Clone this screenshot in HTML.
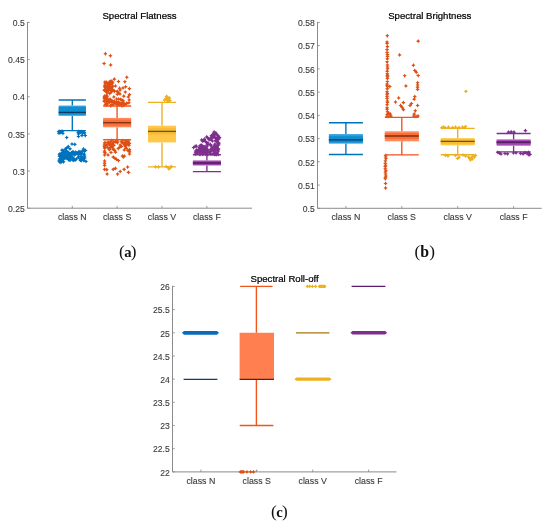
<!DOCTYPE html>
<html><head><meta charset="utf-8"><title>Spectral features box plots</title>
<style>
html,body{margin:0;padding:0;background:#fff}
svg{display:block}
.tk{font-family:"Liberation Sans",Arial,sans-serif;font-size:8.6px;fill:#383838;stroke:#383838;stroke-width:.1px}
.tx{font-family:"Liberation Sans",Arial,sans-serif;font-size:8.8px;fill:#383838;stroke:#383838;stroke-width:.1px}
.tt{font-family:"Liberation Sans",Arial,sans-serif;font-size:9.6px;fill:#000;stroke:#000;stroke-width:.22px}
.cp{font-family:"Liberation Serif","Times New Roman",serif;font-size:15px;fill:#111}
.cp .b{font-weight:bold;font-size:14.6px}
.cp .p{font-size:17.2px}
</style></head><body>
<svg width="550" height="528" viewBox="0 0 550 528">
<rect width="550" height="528" fill="#fff"/>
<g id="plot-a">
<path d="M27.5 21.9V208.2H252" fill="none" stroke="#858585" stroke-width="0.95"/>
<path d="M27.5 22.44999999999999h2.3M27.5 59.599999999999994h2.3M27.5 96.74999999999997h2.3M27.5 133.9h2.3M27.5 171.05h2.3M27.5 208.2h2.3M72.3 208.2v-2.3M117.1 208.2v-2.3M162.0 208.2v-2.3M206.9 208.2v-2.3" fill="none" stroke="#858585" stroke-width="0.8"/>
<text x="24.8" y="26.1" text-anchor="end" class="tk">0.5</text>
<text x="24.8" y="63.3" text-anchor="end" class="tk">0.45</text>
<text x="24.8" y="100.4" text-anchor="end" class="tk">0.4</text>
<text x="24.8" y="137.6" text-anchor="end" class="tk">0.35</text>
<text x="24.8" y="174.8" text-anchor="end" class="tk">0.3</text>
<text x="24.8" y="211.9" text-anchor="end" class="tk">0.25</text>
<text x="72.3" y="220.0" text-anchor="middle" class="tx">class N</text>
<text x="117.1" y="220.0" text-anchor="middle" class="tx">class S</text>
<text x="162.0" y="220.0" text-anchor="middle" class="tx">class V</text>
<text x="206.9" y="220.0" text-anchor="middle" class="tx">class F</text>
<text x="139.5" y="18.5" text-anchor="middle" class="tt">Spectral Flatness</text>
<path d="M60.8 130.4l0.78 1.37 1.37 0.78 -1.37 0.78 -0.78 1.37 -0.78 -1.37 -1.37 -0.78 1.37 -0.78zM59.0 131.0l0.78 1.37 1.37 0.78 -1.37 0.78 -0.78 1.37 -0.78 -1.37 -1.37 -0.78 1.37 -0.78zM62.3 129.3l0.78 1.37 1.37 0.78 -1.37 0.78 -0.78 1.37 -0.78 -1.37 -1.37 -0.78 1.37 -0.78zM62.1 129.3l0.78 1.37 1.37 0.78 -1.37 0.78 -0.78 1.37 -0.78 -1.37 -1.37 -0.78 1.37 -0.78zM58.8 129.5l0.78 1.37 1.37 0.78 -1.37 0.78 -0.78 1.37 -0.78 -1.37 -1.37 -0.78 1.37 -0.78zM59.1 129.1l0.78 1.37 1.37 0.78 -1.37 0.78 -0.78 1.37 -0.78 -1.37 -1.37 -0.78 1.37 -0.78zM61.5 129.3l0.78 1.37 1.37 0.78 -1.37 0.78 -0.78 1.37 -0.78 -1.37 -1.37 -0.78 1.37 -0.78zM60.1 129.7l0.78 1.37 1.37 0.78 -1.37 0.78 -0.78 1.37 -0.78 -1.37 -1.37 -0.78 1.37 -0.78zM62.9 131.1l0.78 1.37 1.37 0.78 -1.37 0.78 -0.78 1.37 -0.78 -1.37 -1.37 -0.78 1.37 -0.78zM80.4 129.9l0.78 1.37 1.37 0.78 -1.37 0.78 -0.78 1.37 -0.78 -1.37 -1.37 -0.78 1.37 -0.78zM85.3 133.4l0.78 1.37 1.37 0.78 -1.37 0.78 -0.78 1.37 -0.78 -1.37 -1.37 -0.78 1.37 -0.78zM79.5 130.2l0.78 1.37 1.37 0.78 -1.37 0.78 -0.78 1.37 -0.78 -1.37 -1.37 -0.78 1.37 -0.78zM78.2 130.4l0.78 1.37 1.37 0.78 -1.37 0.78 -0.78 1.37 -0.78 -1.37 -1.37 -0.78 1.37 -0.78zM83.9 130.2l0.78 1.37 1.37 0.78 -1.37 0.78 -0.78 1.37 -0.78 -1.37 -1.37 -0.78 1.37 -0.78zM78.5 131.8l0.78 1.37 1.37 0.78 -1.37 0.78 -0.78 1.37 -0.78 -1.37 -1.37 -0.78 1.37 -0.78zM80.2 130.5l0.78 1.37 1.37 0.78 -1.37 0.78 -0.78 1.37 -0.78 -1.37 -1.37 -0.78 1.37 -0.78zM81.7 129.6l0.78 1.37 1.37 0.78 -1.37 0.78 -0.78 1.37 -0.78 -1.37 -1.37 -0.78 1.37 -0.78zM78.8 129.2l0.78 1.37 1.37 0.78 -1.37 0.78 -0.78 1.37 -0.78 -1.37 -1.37 -0.78 1.37 -0.78zM82.8 130.7l0.78 1.37 1.37 0.78 -1.37 0.78 -0.78 1.37 -0.78 -1.37 -1.37 -0.78 1.37 -0.78zM82.0 129.8l0.78 1.37 1.37 0.78 -1.37 0.78 -0.78 1.37 -0.78 -1.37 -1.37 -0.78 1.37 -0.78zM66.7 135.4l0.78 1.37 1.37 0.78 -1.37 0.78 -0.78 1.37 -0.78 -1.37 -1.37 -0.78 1.37 -0.78zM78.5 134.3l0.78 1.37 1.37 0.78 -1.37 0.78 -0.78 1.37 -0.78 -1.37 -1.37 -0.78 1.37 -0.78zM82.0 133.3l0.78 1.37 1.37 0.78 -1.37 0.78 -0.78 1.37 -0.78 -1.37 -1.37 -0.78 1.37 -0.78zM84.5 130.8l0.78 1.37 1.37 0.78 -1.37 0.78 -0.78 1.37 -0.78 -1.37 -1.37 -0.78 1.37 -0.78zM72.0 141.9l0.78 1.37 1.37 0.78 -1.37 0.78 -0.78 1.37 -0.78 -1.37 -1.37 -0.78 1.37 -0.78zM74.8 142.2l0.78 1.37 1.37 0.78 -1.37 0.78 -0.78 1.37 -0.78 -1.37 -1.37 -0.78 1.37 -0.78zM68.3 144.4l0.78 1.37 1.37 0.78 -1.37 0.78 -0.78 1.37 -0.78 -1.37 -1.37 -0.78 1.37 -0.78zM65.0 147.2l0.78 1.37 1.37 0.78 -1.37 0.78 -0.78 1.37 -0.78 -1.37 -1.37 -0.78 1.37 -0.78zM83.4 146.8l0.78 1.37 1.37 0.78 -1.37 0.78 -0.78 1.37 -0.78 -1.37 -1.37 -0.78 1.37 -0.78zM66.5 146.0l0.78 1.37 1.37 0.78 -1.37 0.78 -0.78 1.37 -0.78 -1.37 -1.37 -0.78 1.37 -0.78zM70.0 146.7l0.78 1.37 1.37 0.78 -1.37 0.78 -0.78 1.37 -0.78 -1.37 -1.37 -0.78 1.37 -0.78zM62.0 148.0l0.78 1.37 1.37 0.78 -1.37 0.78 -0.78 1.37 -0.78 -1.37 -1.37 -0.78 1.37 -0.78zM85.5 148.3l0.78 1.37 1.37 0.78 -1.37 0.78 -0.78 1.37 -0.78 -1.37 -1.37 -0.78 1.37 -0.78zM73.0 149.5l0.78 1.37 1.37 0.78 -1.37 0.78 -0.78 1.37 -0.78 -1.37 -1.37 -0.78 1.37 -0.78zM80.5 150.5l0.78 1.37 1.37 0.78 -1.37 0.78 -0.78 1.37 -0.78 -1.37 -1.37 -0.78 1.37 -0.78zM68.4 150.2l0.78 1.37 1.37 0.78 -1.37 0.78 -0.78 1.37 -0.78 -1.37 -1.37 -0.78 1.37 -0.78zM74.6 151.0l0.78 1.37 1.37 0.78 -1.37 0.78 -0.78 1.37 -0.78 -1.37 -1.37 -0.78 1.37 -0.78zM79.0 149.4l0.78 1.37 1.37 0.78 -1.37 0.78 -0.78 1.37 -0.78 -1.37 -1.37 -0.78 1.37 -0.78zM84.6 149.0l0.78 1.37 1.37 0.78 -1.37 0.78 -0.78 1.37 -0.78 -1.37 -1.37 -0.78 1.37 -0.78zM72.2 150.7l0.78 1.37 1.37 0.78 -1.37 0.78 -0.78 1.37 -0.78 -1.37 -1.37 -0.78 1.37 -0.78zM66.3 150.0l0.78 1.37 1.37 0.78 -1.37 0.78 -0.78 1.37 -0.78 -1.37 -1.37 -0.78 1.37 -0.78zM63.9 150.5l0.78 1.37 1.37 0.78 -1.37 0.78 -0.78 1.37 -0.78 -1.37 -1.37 -0.78 1.37 -0.78zM79.8 150.2l0.78 1.37 1.37 0.78 -1.37 0.78 -0.78 1.37 -0.78 -1.37 -1.37 -0.78 1.37 -0.78zM82.3 149.5l0.78 1.37 1.37 0.78 -1.37 0.78 -0.78 1.37 -0.78 -1.37 -1.37 -0.78 1.37 -0.78zM78.3 150.3l0.78 1.37 1.37 0.78 -1.37 0.78 -0.78 1.37 -0.78 -1.37 -1.37 -0.78 1.37 -0.78zM75.8 149.9l0.78 1.37 1.37 0.78 -1.37 0.78 -0.78 1.37 -0.78 -1.37 -1.37 -0.78 1.37 -0.78zM81.5 151.2l0.78 1.37 1.37 0.78 -1.37 0.78 -0.78 1.37 -0.78 -1.37 -1.37 -0.78 1.37 -0.78zM73.4 150.4l0.78 1.37 1.37 0.78 -1.37 0.78 -0.78 1.37 -0.78 -1.37 -1.37 -0.78 1.37 -0.78zM64.3 150.5l0.78 1.37 1.37 0.78 -1.37 0.78 -0.78 1.37 -0.78 -1.37 -1.37 -0.78 1.37 -0.78zM77.2 151.3l0.78 1.37 1.37 0.78 -1.37 0.78 -0.78 1.37 -0.78 -1.37 -1.37 -0.78 1.37 -0.78zM81.1 149.4l0.78 1.37 1.37 0.78 -1.37 0.78 -0.78 1.37 -0.78 -1.37 -1.37 -0.78 1.37 -0.78zM71.5 150.5l0.78 1.37 1.37 0.78 -1.37 0.78 -0.78 1.37 -0.78 -1.37 -1.37 -0.78 1.37 -0.78zM63.5 149.9l0.78 1.37 1.37 0.78 -1.37 0.78 -0.78 1.37 -0.78 -1.37 -1.37 -0.78 1.37 -0.78zM66.7 149.0l0.78 1.37 1.37 0.78 -1.37 0.78 -0.78 1.37 -0.78 -1.37 -1.37 -0.78 1.37 -0.78zM64.3 150.7l0.78 1.37 1.37 0.78 -1.37 0.78 -0.78 1.37 -0.78 -1.37 -1.37 -0.78 1.37 -0.78zM65.8 149.3l0.78 1.37 1.37 0.78 -1.37 0.78 -0.78 1.37 -0.78 -1.37 -1.37 -0.78 1.37 -0.78zM71.6 151.0l0.78 1.37 1.37 0.78 -1.37 0.78 -0.78 1.37 -0.78 -1.37 -1.37 -0.78 1.37 -0.78zM61.5 154.3l0.78 1.37 1.37 0.78 -1.37 0.78 -0.78 1.37 -0.78 -1.37 -1.37 -0.78 1.37 -0.78zM73.6 157.6l0.78 1.37 1.37 0.78 -1.37 0.78 -0.78 1.37 -0.78 -1.37 -1.37 -0.78 1.37 -0.78zM80.6 157.4l0.78 1.37 1.37 0.78 -1.37 0.78 -0.78 1.37 -0.78 -1.37 -1.37 -0.78 1.37 -0.78zM66.6 154.0l0.78 1.37 1.37 0.78 -1.37 0.78 -0.78 1.37 -0.78 -1.37 -1.37 -0.78 1.37 -0.78zM68.7 157.6l0.78 1.37 1.37 0.78 -1.37 0.78 -0.78 1.37 -0.78 -1.37 -1.37 -0.78 1.37 -0.78zM84.2 152.0l0.78 1.37 1.37 0.78 -1.37 0.78 -0.78 1.37 -0.78 -1.37 -1.37 -0.78 1.37 -0.78zM64.0 152.6l0.78 1.37 1.37 0.78 -1.37 0.78 -0.78 1.37 -0.78 -1.37 -1.37 -0.78 1.37 -0.78zM65.4 154.5l0.78 1.37 1.37 0.78 -1.37 0.78 -0.78 1.37 -0.78 -1.37 -1.37 -0.78 1.37 -0.78zM74.7 152.8l0.78 1.37 1.37 0.78 -1.37 0.78 -0.78 1.37 -0.78 -1.37 -1.37 -0.78 1.37 -0.78zM59.5 154.0l0.78 1.37 1.37 0.78 -1.37 0.78 -0.78 1.37 -0.78 -1.37 -1.37 -0.78 1.37 -0.78zM69.0 155.2l0.78 1.37 1.37 0.78 -1.37 0.78 -0.78 1.37 -0.78 -1.37 -1.37 -0.78 1.37 -0.78zM84.1 156.1l0.78 1.37 1.37 0.78 -1.37 0.78 -0.78 1.37 -0.78 -1.37 -1.37 -0.78 1.37 -0.78zM72.8 155.5l0.78 1.37 1.37 0.78 -1.37 0.78 -0.78 1.37 -0.78 -1.37 -1.37 -0.78 1.37 -0.78zM76.9 151.3l0.78 1.37 1.37 0.78 -1.37 0.78 -0.78 1.37 -0.78 -1.37 -1.37 -0.78 1.37 -0.78zM82.7 156.8l0.78 1.37 1.37 0.78 -1.37 0.78 -0.78 1.37 -0.78 -1.37 -1.37 -0.78 1.37 -0.78zM82.0 156.9l0.78 1.37 1.37 0.78 -1.37 0.78 -0.78 1.37 -0.78 -1.37 -1.37 -0.78 1.37 -0.78zM69.6 153.9l0.78 1.37 1.37 0.78 -1.37 0.78 -0.78 1.37 -0.78 -1.37 -1.37 -0.78 1.37 -0.78zM62.1 155.7l0.78 1.37 1.37 0.78 -1.37 0.78 -0.78 1.37 -0.78 -1.37 -1.37 -0.78 1.37 -0.78zM61.0 151.4l0.78 1.37 1.37 0.78 -1.37 0.78 -0.78 1.37 -0.78 -1.37 -1.37 -0.78 1.37 -0.78zM64.8 152.1l0.78 1.37 1.37 0.78 -1.37 0.78 -0.78 1.37 -0.78 -1.37 -1.37 -0.78 1.37 -0.78zM68.2 151.2l0.78 1.37 1.37 0.78 -1.37 0.78 -0.78 1.37 -0.78 -1.37 -1.37 -0.78 1.37 -0.78zM59.4 152.0l0.78 1.37 1.37 0.78 -1.37 0.78 -0.78 1.37 -0.78 -1.37 -1.37 -0.78 1.37 -0.78zM62.0 153.6l0.78 1.37 1.37 0.78 -1.37 0.78 -0.78 1.37 -0.78 -1.37 -1.37 -0.78 1.37 -0.78zM60.1 157.5l0.78 1.37 1.37 0.78 -1.37 0.78 -0.78 1.37 -0.78 -1.37 -1.37 -0.78 1.37 -0.78zM75.3 152.0l0.78 1.37 1.37 0.78 -1.37 0.78 -0.78 1.37 -0.78 -1.37 -1.37 -0.78 1.37 -0.78zM65.9 153.5l0.78 1.37 1.37 0.78 -1.37 0.78 -0.78 1.37 -0.78 -1.37 -1.37 -0.78 1.37 -0.78zM68.8 151.8l0.78 1.37 1.37 0.78 -1.37 0.78 -0.78 1.37 -0.78 -1.37 -1.37 -0.78 1.37 -0.78zM81.4 158.4l0.78 1.37 1.37 0.78 -1.37 0.78 -0.78 1.37 -0.78 -1.37 -1.37 -0.78 1.37 -0.78zM71.5 154.5l0.78 1.37 1.37 0.78 -1.37 0.78 -0.78 1.37 -0.78 -1.37 -1.37 -0.78 1.37 -0.78zM61.6 151.6l0.78 1.37 1.37 0.78 -1.37 0.78 -0.78 1.37 -0.78 -1.37 -1.37 -0.78 1.37 -0.78zM68.3 152.9l0.78 1.37 1.37 0.78 -1.37 0.78 -0.78 1.37 -0.78 -1.37 -1.37 -0.78 1.37 -0.78zM80.9 152.1l0.78 1.37 1.37 0.78 -1.37 0.78 -0.78 1.37 -0.78 -1.37 -1.37 -0.78 1.37 -0.78zM60.0 158.1l0.78 1.37 1.37 0.78 -1.37 0.78 -0.78 1.37 -0.78 -1.37 -1.37 -0.78 1.37 -0.78zM73.1 152.0l0.78 1.37 1.37 0.78 -1.37 0.78 -0.78 1.37 -0.78 -1.37 -1.37 -0.78 1.37 -0.78zM73.5 151.1l0.78 1.37 1.37 0.78 -1.37 0.78 -0.78 1.37 -0.78 -1.37 -1.37 -0.78 1.37 -0.78zM73.1 158.3l0.78 1.37 1.37 0.78 -1.37 0.78 -0.78 1.37 -0.78 -1.37 -1.37 -0.78 1.37 -0.78zM81.8 156.1l0.78 1.37 1.37 0.78 -1.37 0.78 -0.78 1.37 -0.78 -1.37 -1.37 -0.78 1.37 -0.78zM66.2 153.6l0.78 1.37 1.37 0.78 -1.37 0.78 -0.78 1.37 -0.78 -1.37 -1.37 -0.78 1.37 -0.78zM63.7 156.7l0.78 1.37 1.37 0.78 -1.37 0.78 -0.78 1.37 -0.78 -1.37 -1.37 -0.78 1.37 -0.78zM73.2 156.8l0.78 1.37 1.37 0.78 -1.37 0.78 -0.78 1.37 -0.78 -1.37 -1.37 -0.78 1.37 -0.78zM67.9 152.5l0.78 1.37 1.37 0.78 -1.37 0.78 -0.78 1.37 -0.78 -1.37 -1.37 -0.78 1.37 -0.78zM80.4 158.3l0.78 1.37 1.37 0.78 -1.37 0.78 -0.78 1.37 -0.78 -1.37 -1.37 -0.78 1.37 -0.78zM81.5 157.0l0.78 1.37 1.37 0.78 -1.37 0.78 -0.78 1.37 -0.78 -1.37 -1.37 -0.78 1.37 -0.78zM80.6 156.5l0.78 1.37 1.37 0.78 -1.37 0.78 -0.78 1.37 -0.78 -1.37 -1.37 -0.78 1.37 -0.78zM65.3 154.8l0.78 1.37 1.37 0.78 -1.37 0.78 -0.78 1.37 -0.78 -1.37 -1.37 -0.78 1.37 -0.78zM68.6 151.1l0.78 1.37 1.37 0.78 -1.37 0.78 -0.78 1.37 -0.78 -1.37 -1.37 -0.78 1.37 -0.78zM60.1 153.0l0.78 1.37 1.37 0.78 -1.37 0.78 -0.78 1.37 -0.78 -1.37 -1.37 -0.78 1.37 -0.78zM66.1 156.1l0.78 1.37 1.37 0.78 -1.37 0.78 -0.78 1.37 -0.78 -1.37 -1.37 -0.78 1.37 -0.78zM84.2 154.2l0.78 1.37 1.37 0.78 -1.37 0.78 -0.78 1.37 -0.78 -1.37 -1.37 -0.78 1.37 -0.78zM83.7 158.4l0.78 1.37 1.37 0.78 -1.37 0.78 -0.78 1.37 -0.78 -1.37 -1.37 -0.78 1.37 -0.78zM84.1 153.6l0.78 1.37 1.37 0.78 -1.37 0.78 -0.78 1.37 -0.78 -1.37 -1.37 -0.78 1.37 -0.78zM65.1 152.6l0.78 1.37 1.37 0.78 -1.37 0.78 -0.78 1.37 -0.78 -1.37 -1.37 -0.78 1.37 -0.78zM64.5 152.4l0.78 1.37 1.37 0.78 -1.37 0.78 -0.78 1.37 -0.78 -1.37 -1.37 -0.78 1.37 -0.78zM75.6 157.7l0.78 1.37 1.37 0.78 -1.37 0.78 -0.78 1.37 -0.78 -1.37 -1.37 -0.78 1.37 -0.78zM81.2 154.5l0.78 1.37 1.37 0.78 -1.37 0.78 -0.78 1.37 -0.78 -1.37 -1.37 -0.78 1.37 -0.78zM76.3 156.9l0.78 1.37 1.37 0.78 -1.37 0.78 -0.78 1.37 -0.78 -1.37 -1.37 -0.78 1.37 -0.78zM61.6 155.9l0.78 1.37 1.37 0.78 -1.37 0.78 -0.78 1.37 -0.78 -1.37 -1.37 -0.78 1.37 -0.78zM83.0 156.8l0.78 1.37 1.37 0.78 -1.37 0.78 -0.78 1.37 -0.78 -1.37 -1.37 -0.78 1.37 -0.78zM78.8 154.5l0.78 1.37 1.37 0.78 -1.37 0.78 -0.78 1.37 -0.78 -1.37 -1.37 -0.78 1.37 -0.78zM64.0 156.8l0.78 1.37 1.37 0.78 -1.37 0.78 -0.78 1.37 -0.78 -1.37 -1.37 -0.78 1.37 -0.78zM68.0 156.9l0.78 1.37 1.37 0.78 -1.37 0.78 -0.78 1.37 -0.78 -1.37 -1.37 -0.78 1.37 -0.78zM84.6 153.9l0.78 1.37 1.37 0.78 -1.37 0.78 -0.78 1.37 -0.78 -1.37 -1.37 -0.78 1.37 -0.78zM69.8 158.0l0.78 1.37 1.37 0.78 -1.37 0.78 -0.78 1.37 -0.78 -1.37 -1.37 -0.78 1.37 -0.78zM78.2 152.1l0.78 1.37 1.37 0.78 -1.37 0.78 -0.78 1.37 -0.78 -1.37 -1.37 -0.78 1.37 -0.78zM62.7 152.0l0.78 1.37 1.37 0.78 -1.37 0.78 -0.78 1.37 -0.78 -1.37 -1.37 -0.78 1.37 -0.78zM82.8 157.0l0.78 1.37 1.37 0.78 -1.37 0.78 -0.78 1.37 -0.78 -1.37 -1.37 -0.78 1.37 -0.78zM63.2 157.1l0.78 1.37 1.37 0.78 -1.37 0.78 -0.78 1.37 -0.78 -1.37 -1.37 -0.78 1.37 -0.78zM84.8 155.8l0.78 1.37 1.37 0.78 -1.37 0.78 -0.78 1.37 -0.78 -1.37 -1.37 -0.78 1.37 -0.78zM68.5 155.0l0.78 1.37 1.37 0.78 -1.37 0.78 -0.78 1.37 -0.78 -1.37 -1.37 -0.78 1.37 -0.78zM62.8 151.0l0.78 1.37 1.37 0.78 -1.37 0.78 -0.78 1.37 -0.78 -1.37 -1.37 -0.78 1.37 -0.78zM84.5 155.8l0.78 1.37 1.37 0.78 -1.37 0.78 -0.78 1.37 -0.78 -1.37 -1.37 -0.78 1.37 -0.78zM73.0 157.9l0.78 1.37 1.37 0.78 -1.37 0.78 -0.78 1.37 -0.78 -1.37 -1.37 -0.78 1.37 -0.78zM70.6 157.5l0.78 1.37 1.37 0.78 -1.37 0.78 -0.78 1.37 -0.78 -1.37 -1.37 -0.78 1.37 -0.78zM80.8 152.5l0.78 1.37 1.37 0.78 -1.37 0.78 -0.78 1.37 -0.78 -1.37 -1.37 -0.78 1.37 -0.78zM65.9 153.1l0.78 1.37 1.37 0.78 -1.37 0.78 -0.78 1.37 -0.78 -1.37 -1.37 -0.78 1.37 -0.78zM65.6 155.3l0.78 1.37 1.37 0.78 -1.37 0.78 -0.78 1.37 -0.78 -1.37 -1.37 -0.78 1.37 -0.78zM66.1 154.0l0.78 1.37 1.37 0.78 -1.37 0.78 -0.78 1.37 -0.78 -1.37 -1.37 -0.78 1.37 -0.78zM62.8 157.8l0.78 1.37 1.37 0.78 -1.37 0.78 -0.78 1.37 -0.78 -1.37 -1.37 -0.78 1.37 -0.78zM68.6 154.3l0.78 1.37 1.37 0.78 -1.37 0.78 -0.78 1.37 -0.78 -1.37 -1.37 -0.78 1.37 -0.78zM74.5 157.7l0.78 1.37 1.37 0.78 -1.37 0.78 -0.78 1.37 -0.78 -1.37 -1.37 -0.78 1.37 -0.78zM70.3 157.8l0.78 1.37 1.37 0.78 -1.37 0.78 -0.78 1.37 -0.78 -1.37 -1.37 -0.78 1.37 -0.78zM72.4 154.9l0.78 1.37 1.37 0.78 -1.37 0.78 -0.78 1.37 -0.78 -1.37 -1.37 -0.78 1.37 -0.78zM73.0 151.0l0.78 1.37 1.37 0.78 -1.37 0.78 -0.78 1.37 -0.78 -1.37 -1.37 -0.78 1.37 -0.78zM70.8 152.2l0.78 1.37 1.37 0.78 -1.37 0.78 -0.78 1.37 -0.78 -1.37 -1.37 -0.78 1.37 -0.78zM59.5 156.9l0.78 1.37 1.37 0.78 -1.37 0.78 -0.78 1.37 -0.78 -1.37 -1.37 -0.78 1.37 -0.78zM63.9 154.4l0.78 1.37 1.37 0.78 -1.37 0.78 -0.78 1.37 -0.78 -1.37 -1.37 -0.78 1.37 -0.78zM78.2 155.1l0.78 1.37 1.37 0.78 -1.37 0.78 -0.78 1.37 -0.78 -1.37 -1.37 -0.78 1.37 -0.78zM67.8 154.8l0.78 1.37 1.37 0.78 -1.37 0.78 -0.78 1.37 -0.78 -1.37 -1.37 -0.78 1.37 -0.78zM73.8 156.8l0.78 1.37 1.37 0.78 -1.37 0.78 -0.78 1.37 -0.78 -1.37 -1.37 -0.78 1.37 -0.78zM62.1 155.1l0.78 1.37 1.37 0.78 -1.37 0.78 -0.78 1.37 -0.78 -1.37 -1.37 -0.78 1.37 -0.78zM60.1 160.3l0.78 1.37 1.37 0.78 -1.37 0.78 -0.78 1.37 -0.78 -1.37 -1.37 -0.78 1.37 -0.78zM61.5 159.8l0.78 1.37 1.37 0.78 -1.37 0.78 -0.78 1.37 -0.78 -1.37 -1.37 -0.78 1.37 -0.78zM59.0 158.8l0.78 1.37 1.37 0.78 -1.37 0.78 -0.78 1.37 -0.78 -1.37 -1.37 -0.78 1.37 -0.78zM63.5 159.7l0.78 1.37 1.37 0.78 -1.37 0.78 -0.78 1.37 -0.78 -1.37 -1.37 -0.78 1.37 -0.78zM86.0 159.3l0.78 1.37 1.37 0.78 -1.37 0.78 -0.78 1.37 -0.78 -1.37 -1.37 -0.78 1.37 -0.78z" fill="#0072BD"/>
<path d="M72.3 100V105.6M72.3 115.8V130.6M58.699999999999996 100H85.89999999999999M58.699999999999996 130.6H85.89999999999999" stroke="#0072BD" stroke-width="1.35" fill="none"/>
<rect x="58.699999999999996" y="105.6" width="27.2" height="10.20" fill="#2FA0DB"/>
<rect x="58.699999999999996" y="107" width="27.2" height="7.70" fill="#0E8DD1"/>
<path d="M58.699999999999996 112.4H85.89999999999999" stroke="#0B3A60" stroke-width="1.3" fill="none"/>
<path d="M105.4 51.6l0.78 1.37 1.37 0.78 -1.37 0.78 -0.78 1.37 -0.78 -1.37 -1.37 -0.78 1.37 -0.78zM110.4 53.6l0.78 1.37 1.37 0.78 -1.37 0.78 -0.78 1.37 -0.78 -1.37 -1.37 -0.78 1.37 -0.78zM104.1 61.4l0.78 1.37 1.37 0.78 -1.37 0.78 -0.78 1.37 -0.78 -1.37 -1.37 -0.78 1.37 -0.78zM110.7 62.8l0.78 1.37 1.37 0.78 -1.37 0.78 -0.78 1.37 -0.78 -1.37 -1.37 -0.78 1.37 -0.78zM126.8 75.1l0.78 1.37 1.37 0.78 -1.37 0.78 -0.78 1.37 -0.78 -1.37 -1.37 -0.78 1.37 -0.78zM118.5 79.3l0.78 1.37 1.37 0.78 -1.37 0.78 -0.78 1.37 -0.78 -1.37 -1.37 -0.78 1.37 -0.78zM124.9 79.6l0.78 1.37 1.37 0.78 -1.37 0.78 -0.78 1.37 -0.78 -1.37 -1.37 -0.78 1.37 -0.78zM114.3 77.0l0.78 1.37 1.37 0.78 -1.37 0.78 -0.78 1.37 -0.78 -1.37 -1.37 -0.78 1.37 -0.78zM119.6 86.1l0.78 1.37 1.37 0.78 -1.37 0.78 -0.78 1.37 -0.78 -1.37 -1.37 -0.78 1.37 -0.78zM123.0 85.8l0.78 1.37 1.37 0.78 -1.37 0.78 -0.78 1.37 -0.78 -1.37 -1.37 -0.78 1.37 -0.78zM125.7 84.6l0.78 1.37 1.37 0.78 -1.37 0.78 -0.78 1.37 -0.78 -1.37 -1.37 -0.78 1.37 -0.78zM129.4 86.5l0.78 1.37 1.37 0.78 -1.37 0.78 -0.78 1.37 -0.78 -1.37 -1.37 -0.78 1.37 -0.78zM125.3 89.9l0.78 1.37 1.37 0.78 -1.37 0.78 -0.78 1.37 -0.78 -1.37 -1.37 -0.78 1.37 -0.78zM123.8 94.0l0.78 1.37 1.37 0.78 -1.37 0.78 -0.78 1.37 -0.78 -1.37 -1.37 -0.78 1.37 -0.78zM129.5 92.5l0.78 1.37 1.37 0.78 -1.37 0.78 -0.78 1.37 -0.78 -1.37 -1.37 -0.78 1.37 -0.78zM128.3 94.8l0.78 1.37 1.37 0.78 -1.37 0.78 -0.78 1.37 -0.78 -1.37 -1.37 -0.78 1.37 -0.78zM117.0 89.3l0.78 1.37 1.37 0.78 -1.37 0.78 -0.78 1.37 -0.78 -1.37 -1.37 -0.78 1.37 -0.78zM120.0 91.8l0.78 1.37 1.37 0.78 -1.37 0.78 -0.78 1.37 -0.78 -1.37 -1.37 -0.78 1.37 -0.78zM115.5 83.8l0.78 1.37 1.37 0.78 -1.37 0.78 -0.78 1.37 -0.78 -1.37 -1.37 -0.78 1.37 -0.78zM106.5 80.1l0.78 1.37 1.37 0.78 -1.37 0.78 -0.78 1.37 -0.78 -1.37 -1.37 -0.78 1.37 -0.78zM111.0 81.8l0.78 1.37 1.37 0.78 -1.37 0.78 -0.78 1.37 -0.78 -1.37 -1.37 -0.78 1.37 -0.78zM109.2 83.6l0.78 1.37 1.37 0.78 -1.37 0.78 -0.78 1.37 -0.78 -1.37 -1.37 -0.78 1.37 -0.78zM112.2 81.3l0.78 1.37 1.37 0.78 -1.37 0.78 -0.78 1.37 -0.78 -1.37 -1.37 -0.78 1.37 -0.78zM109.6 81.8l0.78 1.37 1.37 0.78 -1.37 0.78 -0.78 1.37 -0.78 -1.37 -1.37 -0.78 1.37 -0.78zM108.8 83.1l0.78 1.37 1.37 0.78 -1.37 0.78 -0.78 1.37 -0.78 -1.37 -1.37 -0.78 1.37 -0.78zM108.2 82.0l0.78 1.37 1.37 0.78 -1.37 0.78 -0.78 1.37 -0.78 -1.37 -1.37 -0.78 1.37 -0.78zM108.5 84.9l0.78 1.37 1.37 0.78 -1.37 0.78 -0.78 1.37 -0.78 -1.37 -1.37 -0.78 1.37 -0.78zM110.4 84.5l0.78 1.37 1.37 0.78 -1.37 0.78 -0.78 1.37 -0.78 -1.37 -1.37 -0.78 1.37 -0.78zM112.5 80.0l0.78 1.37 1.37 0.78 -1.37 0.78 -0.78 1.37 -0.78 -1.37 -1.37 -0.78 1.37 -0.78zM109.2 84.9l0.78 1.37 1.37 0.78 -1.37 0.78 -0.78 1.37 -0.78 -1.37 -1.37 -0.78 1.37 -0.78zM111.6 79.1l0.78 1.37 1.37 0.78 -1.37 0.78 -0.78 1.37 -0.78 -1.37 -1.37 -0.78 1.37 -0.78zM105.4 81.3l0.78 1.37 1.37 0.78 -1.37 0.78 -0.78 1.37 -0.78 -1.37 -1.37 -0.78 1.37 -0.78zM104.9 79.9l0.78 1.37 1.37 0.78 -1.37 0.78 -0.78 1.37 -0.78 -1.37 -1.37 -0.78 1.37 -0.78zM104.9 83.0l0.78 1.37 1.37 0.78 -1.37 0.78 -0.78 1.37 -0.78 -1.37 -1.37 -0.78 1.37 -0.78zM111.1 84.6l0.78 1.37 1.37 0.78 -1.37 0.78 -0.78 1.37 -0.78 -1.37 -1.37 -0.78 1.37 -0.78zM105.6 83.3l0.78 1.37 1.37 0.78 -1.37 0.78 -0.78 1.37 -0.78 -1.37 -1.37 -0.78 1.37 -0.78zM110.0 79.2l0.78 1.37 1.37 0.78 -1.37 0.78 -0.78 1.37 -0.78 -1.37 -1.37 -0.78 1.37 -0.78zM112.0 85.1l0.78 1.37 1.37 0.78 -1.37 0.78 -0.78 1.37 -0.78 -1.37 -1.37 -0.78 1.37 -0.78zM106.2 85.0l0.78 1.37 1.37 0.78 -1.37 0.78 -0.78 1.37 -0.78 -1.37 -1.37 -0.78 1.37 -0.78zM107.8 81.7l0.78 1.37 1.37 0.78 -1.37 0.78 -0.78 1.37 -0.78 -1.37 -1.37 -0.78 1.37 -0.78zM112.9 84.1l0.78 1.37 1.37 0.78 -1.37 0.78 -0.78 1.37 -0.78 -1.37 -1.37 -0.78 1.37 -0.78zM105.7 81.3l0.78 1.37 1.37 0.78 -1.37 0.78 -0.78 1.37 -0.78 -1.37 -1.37 -0.78 1.37 -0.78zM108.8 80.6l0.78 1.37 1.37 0.78 -1.37 0.78 -0.78 1.37 -0.78 -1.37 -1.37 -0.78 1.37 -0.78zM105.1 88.0l0.78 1.37 1.37 0.78 -1.37 0.78 -0.78 1.37 -0.78 -1.37 -1.37 -0.78 1.37 -0.78zM107.3 84.1l0.78 1.37 1.37 0.78 -1.37 0.78 -0.78 1.37 -0.78 -1.37 -1.37 -0.78 1.37 -0.78zM106.6 89.6l0.78 1.37 1.37 0.78 -1.37 0.78 -0.78 1.37 -0.78 -1.37 -1.37 -0.78 1.37 -0.78zM104.4 88.2l0.78 1.37 1.37 0.78 -1.37 0.78 -0.78 1.37 -0.78 -1.37 -1.37 -0.78 1.37 -0.78zM106.9 90.5l0.78 1.37 1.37 0.78 -1.37 0.78 -0.78 1.37 -0.78 -1.37 -1.37 -0.78 1.37 -0.78zM104.6 96.7l0.78 1.37 1.37 0.78 -1.37 0.78 -0.78 1.37 -0.78 -1.37 -1.37 -0.78 1.37 -0.78zM107.6 96.5l0.78 1.37 1.37 0.78 -1.37 0.78 -0.78 1.37 -0.78 -1.37 -1.37 -0.78 1.37 -0.78zM104.7 87.3l0.78 1.37 1.37 0.78 -1.37 0.78 -0.78 1.37 -0.78 -1.37 -1.37 -0.78 1.37 -0.78zM104.5 94.0l0.78 1.37 1.37 0.78 -1.37 0.78 -0.78 1.37 -0.78 -1.37 -1.37 -0.78 1.37 -0.78zM105.4 85.5l0.78 1.37 1.37 0.78 -1.37 0.78 -0.78 1.37 -0.78 -1.37 -1.37 -0.78 1.37 -0.78zM106.1 95.7l0.78 1.37 1.37 0.78 -1.37 0.78 -0.78 1.37 -0.78 -1.37 -1.37 -0.78 1.37 -0.78zM107.7 87.2l0.78 1.37 1.37 0.78 -1.37 0.78 -0.78 1.37 -0.78 -1.37 -1.37 -0.78 1.37 -0.78zM104.9 95.8l0.78 1.37 1.37 0.78 -1.37 0.78 -0.78 1.37 -0.78 -1.37 -1.37 -0.78 1.37 -0.78zM106.7 93.0l0.78 1.37 1.37 0.78 -1.37 0.78 -0.78 1.37 -0.78 -1.37 -1.37 -0.78 1.37 -0.78zM104.7 84.6l0.78 1.37 1.37 0.78 -1.37 0.78 -0.78 1.37 -0.78 -1.37 -1.37 -0.78 1.37 -0.78zM107.2 89.4l0.78 1.37 1.37 0.78 -1.37 0.78 -0.78 1.37 -0.78 -1.37 -1.37 -0.78 1.37 -0.78zM104.6 96.0l0.78 1.37 1.37 0.78 -1.37 0.78 -0.78 1.37 -0.78 -1.37 -1.37 -0.78 1.37 -0.78zM107.0 94.3l0.78 1.37 1.37 0.78 -1.37 0.78 -0.78 1.37 -0.78 -1.37 -1.37 -0.78 1.37 -0.78zM104.7 95.0l0.78 1.37 1.37 0.78 -1.37 0.78 -0.78 1.37 -0.78 -1.37 -1.37 -0.78 1.37 -0.78zM104.6 95.1l0.78 1.37 1.37 0.78 -1.37 0.78 -0.78 1.37 -0.78 -1.37 -1.37 -0.78 1.37 -0.78zM106.2 88.3l0.78 1.37 1.37 0.78 -1.37 0.78 -0.78 1.37 -0.78 -1.37 -1.37 -0.78 1.37 -0.78zM106.6 95.9l0.78 1.37 1.37 0.78 -1.37 0.78 -0.78 1.37 -0.78 -1.37 -1.37 -0.78 1.37 -0.78zM110.8 88.1l0.78 1.37 1.37 0.78 -1.37 0.78 -0.78 1.37 -0.78 -1.37 -1.37 -0.78 1.37 -0.78zM114.4 89.1l0.78 1.37 1.37 0.78 -1.37 0.78 -0.78 1.37 -0.78 -1.37 -1.37 -0.78 1.37 -0.78zM108.5 88.4l0.78 1.37 1.37 0.78 -1.37 0.78 -0.78 1.37 -0.78 -1.37 -1.37 -0.78 1.37 -0.78zM107.7 88.8l0.78 1.37 1.37 0.78 -1.37 0.78 -0.78 1.37 -0.78 -1.37 -1.37 -0.78 1.37 -0.78zM111.4 89.7l0.78 1.37 1.37 0.78 -1.37 0.78 -0.78 1.37 -0.78 -1.37 -1.37 -0.78 1.37 -0.78zM117.6 89.6l0.78 1.37 1.37 0.78 -1.37 0.78 -0.78 1.37 -0.78 -1.37 -1.37 -0.78 1.37 -0.78zM114.0 88.5l0.78 1.37 1.37 0.78 -1.37 0.78 -0.78 1.37 -0.78 -1.37 -1.37 -0.78 1.37 -0.78zM111.9 87.0l0.78 1.37 1.37 0.78 -1.37 0.78 -0.78 1.37 -0.78 -1.37 -1.37 -0.78 1.37 -0.78zM110.5 87.0l0.78 1.37 1.37 0.78 -1.37 0.78 -0.78 1.37 -0.78 -1.37 -1.37 -0.78 1.37 -0.78zM117.3 92.1l0.78 1.37 1.37 0.78 -1.37 0.78 -0.78 1.37 -0.78 -1.37 -1.37 -0.78 1.37 -0.78zM109.7 91.4l0.78 1.37 1.37 0.78 -1.37 0.78 -0.78 1.37 -0.78 -1.37 -1.37 -0.78 1.37 -0.78zM120.1 87.9l0.78 1.37 1.37 0.78 -1.37 0.78 -0.78 1.37 -0.78 -1.37 -1.37 -0.78 1.37 -0.78zM118.5 91.0l0.78 1.37 1.37 0.78 -1.37 0.78 -0.78 1.37 -0.78 -1.37 -1.37 -0.78 1.37 -0.78zM113.9 94.8l0.78 1.37 1.37 0.78 -1.37 0.78 -0.78 1.37 -0.78 -1.37 -1.37 -0.78 1.37 -0.78zM114.2 100.3l0.78 1.37 1.37 0.78 -1.37 0.78 -0.78 1.37 -0.78 -1.37 -1.37 -0.78 1.37 -0.78zM121.7 103.5l0.78 1.37 1.37 0.78 -1.37 0.78 -0.78 1.37 -0.78 -1.37 -1.37 -0.78 1.37 -0.78zM113.0 102.5l0.78 1.37 1.37 0.78 -1.37 0.78 -0.78 1.37 -0.78 -1.37 -1.37 -0.78 1.37 -0.78zM122.2 101.2l0.78 1.37 1.37 0.78 -1.37 0.78 -0.78 1.37 -0.78 -1.37 -1.37 -0.78 1.37 -0.78zM114.5 99.2l0.78 1.37 1.37 0.78 -1.37 0.78 -0.78 1.37 -0.78 -1.37 -1.37 -0.78 1.37 -0.78zM105.7 97.7l0.78 1.37 1.37 0.78 -1.37 0.78 -0.78 1.37 -0.78 -1.37 -1.37 -0.78 1.37 -0.78zM106.1 101.9l0.78 1.37 1.37 0.78 -1.37 0.78 -0.78 1.37 -0.78 -1.37 -1.37 -0.78 1.37 -0.78zM110.8 98.0l0.78 1.37 1.37 0.78 -1.37 0.78 -0.78 1.37 -0.78 -1.37 -1.37 -0.78 1.37 -0.78zM106.4 102.6l0.78 1.37 1.37 0.78 -1.37 0.78 -0.78 1.37 -0.78 -1.37 -1.37 -0.78 1.37 -0.78zM126.3 101.4l0.78 1.37 1.37 0.78 -1.37 0.78 -0.78 1.37 -0.78 -1.37 -1.37 -0.78 1.37 -0.78zM111.4 98.5l0.78 1.37 1.37 0.78 -1.37 0.78 -0.78 1.37 -0.78 -1.37 -1.37 -0.78 1.37 -0.78zM111.7 100.0l0.78 1.37 1.37 0.78 -1.37 0.78 -0.78 1.37 -0.78 -1.37 -1.37 -0.78 1.37 -0.78zM108.3 99.9l0.78 1.37 1.37 0.78 -1.37 0.78 -0.78 1.37 -0.78 -1.37 -1.37 -0.78 1.37 -0.78zM111.0 103.4l0.78 1.37 1.37 0.78 -1.37 0.78 -0.78 1.37 -0.78 -1.37 -1.37 -0.78 1.37 -0.78zM128.9 100.6l0.78 1.37 1.37 0.78 -1.37 0.78 -0.78 1.37 -0.78 -1.37 -1.37 -0.78 1.37 -0.78zM110.5 103.4l0.78 1.37 1.37 0.78 -1.37 0.78 -0.78 1.37 -0.78 -1.37 -1.37 -0.78 1.37 -0.78zM112.1 99.3l0.78 1.37 1.37 0.78 -1.37 0.78 -0.78 1.37 -0.78 -1.37 -1.37 -0.78 1.37 -0.78zM104.3 99.4l0.78 1.37 1.37 0.78 -1.37 0.78 -0.78 1.37 -0.78 -1.37 -1.37 -0.78 1.37 -0.78zM116.3 100.3l0.78 1.37 1.37 0.78 -1.37 0.78 -0.78 1.37 -0.78 -1.37 -1.37 -0.78 1.37 -0.78zM109.4 100.3l0.78 1.37 1.37 0.78 -1.37 0.78 -0.78 1.37 -0.78 -1.37 -1.37 -0.78 1.37 -0.78zM104.4 98.6l0.78 1.37 1.37 0.78 -1.37 0.78 -0.78 1.37 -0.78 -1.37 -1.37 -0.78 1.37 -0.78zM106.6 99.6l0.78 1.37 1.37 0.78 -1.37 0.78 -0.78 1.37 -0.78 -1.37 -1.37 -0.78 1.37 -0.78zM105.4 97.0l0.78 1.37 1.37 0.78 -1.37 0.78 -0.78 1.37 -0.78 -1.37 -1.37 -0.78 1.37 -0.78zM112.0 98.4l0.78 1.37 1.37 0.78 -1.37 0.78 -0.78 1.37 -0.78 -1.37 -1.37 -0.78 1.37 -0.78zM119.1 100.4l0.78 1.37 1.37 0.78 -1.37 0.78 -0.78 1.37 -0.78 -1.37 -1.37 -0.78 1.37 -0.78zM123.3 101.3l0.78 1.37 1.37 0.78 -1.37 0.78 -0.78 1.37 -0.78 -1.37 -1.37 -0.78 1.37 -0.78zM122.4 102.8l0.78 1.37 1.37 0.78 -1.37 0.78 -0.78 1.37 -0.78 -1.37 -1.37 -0.78 1.37 -0.78zM114.2 99.1l0.78 1.37 1.37 0.78 -1.37 0.78 -0.78 1.37 -0.78 -1.37 -1.37 -0.78 1.37 -0.78zM129.2 97.9l0.78 1.37 1.37 0.78 -1.37 0.78 -0.78 1.37 -0.78 -1.37 -1.37 -0.78 1.37 -0.78zM122.6 101.2l0.78 1.37 1.37 0.78 -1.37 0.78 -0.78 1.37 -0.78 -1.37 -1.37 -0.78 1.37 -0.78zM105.4 102.5l0.78 1.37 1.37 0.78 -1.37 0.78 -0.78 1.37 -0.78 -1.37 -1.37 -0.78 1.37 -0.78zM126.9 101.1l0.78 1.37 1.37 0.78 -1.37 0.78 -0.78 1.37 -0.78 -1.37 -1.37 -0.78 1.37 -0.78zM122.9 102.4l0.78 1.37 1.37 0.78 -1.37 0.78 -0.78 1.37 -0.78 -1.37 -1.37 -0.78 1.37 -0.78zM107.8 100.4l0.78 1.37 1.37 0.78 -1.37 0.78 -0.78 1.37 -0.78 -1.37 -1.37 -0.78 1.37 -0.78zM117.1 102.5l0.78 1.37 1.37 0.78 -1.37 0.78 -0.78 1.37 -0.78 -1.37 -1.37 -0.78 1.37 -0.78zM124.7 102.5l0.78 1.37 1.37 0.78 -1.37 0.78 -0.78 1.37 -0.78 -1.37 -1.37 -0.78 1.37 -0.78zM119.1 102.9l0.78 1.37 1.37 0.78 -1.37 0.78 -0.78 1.37 -0.78 -1.37 -1.37 -0.78 1.37 -0.78zM121.6 101.6l0.78 1.37 1.37 0.78 -1.37 0.78 -0.78 1.37 -0.78 -1.37 -1.37 -0.78 1.37 -0.78zM110.1 97.1l0.78 1.37 1.37 0.78 -1.37 0.78 -0.78 1.37 -0.78 -1.37 -1.37 -0.78 1.37 -0.78zM107.7 99.3l0.78 1.37 1.37 0.78 -1.37 0.78 -0.78 1.37 -0.78 -1.37 -1.37 -0.78 1.37 -0.78zM107.0 102.5l0.78 1.37 1.37 0.78 -1.37 0.78 -0.78 1.37 -0.78 -1.37 -1.37 -0.78 1.37 -0.78zM118.4 101.1l0.78 1.37 1.37 0.78 -1.37 0.78 -0.78 1.37 -0.78 -1.37 -1.37 -0.78 1.37 -0.78zM120.1 101.5l0.78 1.37 1.37 0.78 -1.37 0.78 -0.78 1.37 -0.78 -1.37 -1.37 -0.78 1.37 -0.78zM116.7 96.9l0.78 1.37 1.37 0.78 -1.37 0.78 -0.78 1.37 -0.78 -1.37 -1.37 -0.78 1.37 -0.78zM124.5 101.9l0.78 1.37 1.37 0.78 -1.37 0.78 -0.78 1.37 -0.78 -1.37 -1.37 -0.78 1.37 -0.78zM117.0 100.5l0.78 1.37 1.37 0.78 -1.37 0.78 -0.78 1.37 -0.78 -1.37 -1.37 -0.78 1.37 -0.78zM121.0 97.3l0.78 1.37 1.37 0.78 -1.37 0.78 -0.78 1.37 -0.78 -1.37 -1.37 -0.78 1.37 -0.78zM122.9 98.6l0.78 1.37 1.37 0.78 -1.37 0.78 -0.78 1.37 -0.78 -1.37 -1.37 -0.78 1.37 -0.78zM106.2 98.7l0.78 1.37 1.37 0.78 -1.37 0.78 -0.78 1.37 -0.78 -1.37 -1.37 -0.78 1.37 -0.78zM122.8 98.2l0.78 1.37 1.37 0.78 -1.37 0.78 -0.78 1.37 -0.78 -1.37 -1.37 -0.78 1.37 -0.78zM123.0 103.5l0.78 1.37 1.37 0.78 -1.37 0.78 -0.78 1.37 -0.78 -1.37 -1.37 -0.78 1.37 -0.78zM116.8 99.5l0.78 1.37 1.37 0.78 -1.37 0.78 -0.78 1.37 -0.78 -1.37 -1.37 -0.78 1.37 -0.78zM116.4 101.5l0.78 1.37 1.37 0.78 -1.37 0.78 -0.78 1.37 -0.78 -1.37 -1.37 -0.78 1.37 -0.78zM123.7 101.0l0.78 1.37 1.37 0.78 -1.37 0.78 -0.78 1.37 -0.78 -1.37 -1.37 -0.78 1.37 -0.78zM120.6 97.4l0.78 1.37 1.37 0.78 -1.37 0.78 -0.78 1.37 -0.78 -1.37 -1.37 -0.78 1.37 -0.78zM108.0 98.6l0.78 1.37 1.37 0.78 -1.37 0.78 -0.78 1.37 -0.78 -1.37 -1.37 -0.78 1.37 -0.78zM123.1 98.9l0.78 1.37 1.37 0.78 -1.37 0.78 -0.78 1.37 -0.78 -1.37 -1.37 -0.78 1.37 -0.78zM118.7 96.9l0.78 1.37 1.37 0.78 -1.37 0.78 -0.78 1.37 -0.78 -1.37 -1.37 -0.78 1.37 -0.78zM105.8 98.7l0.78 1.37 1.37 0.78 -1.37 0.78 -0.78 1.37 -0.78 -1.37 -1.37 -0.78 1.37 -0.78zM121.3 101.6l0.78 1.37 1.37 0.78 -1.37 0.78 -0.78 1.37 -0.78 -1.37 -1.37 -0.78 1.37 -0.78zM121.4 139.7l0.78 1.37 1.37 0.78 -1.37 0.78 -0.78 1.37 -0.78 -1.37 -1.37 -0.78 1.37 -0.78zM117.4 140.6l0.78 1.37 1.37 0.78 -1.37 0.78 -0.78 1.37 -0.78 -1.37 -1.37 -0.78 1.37 -0.78zM116.2 138.8l0.78 1.37 1.37 0.78 -1.37 0.78 -0.78 1.37 -0.78 -1.37 -1.37 -0.78 1.37 -0.78zM126.8 139.2l0.78 1.37 1.37 0.78 -1.37 0.78 -0.78 1.37 -0.78 -1.37 -1.37 -0.78 1.37 -0.78zM128.9 143.0l0.78 1.37 1.37 0.78 -1.37 0.78 -0.78 1.37 -0.78 -1.37 -1.37 -0.78 1.37 -0.78zM105.0 140.5l0.78 1.37 1.37 0.78 -1.37 0.78 -0.78 1.37 -0.78 -1.37 -1.37 -0.78 1.37 -0.78zM124.9 143.2l0.78 1.37 1.37 0.78 -1.37 0.78 -0.78 1.37 -0.78 -1.37 -1.37 -0.78 1.37 -0.78zM115.7 139.5l0.78 1.37 1.37 0.78 -1.37 0.78 -0.78 1.37 -0.78 -1.37 -1.37 -0.78 1.37 -0.78zM109.8 143.1l0.78 1.37 1.37 0.78 -1.37 0.78 -0.78 1.37 -0.78 -1.37 -1.37 -0.78 1.37 -0.78zM109.8 141.2l0.78 1.37 1.37 0.78 -1.37 0.78 -0.78 1.37 -0.78 -1.37 -1.37 -0.78 1.37 -0.78zM108.1 140.9l0.78 1.37 1.37 0.78 -1.37 0.78 -0.78 1.37 -0.78 -1.37 -1.37 -0.78 1.37 -0.78zM128.2 138.8l0.78 1.37 1.37 0.78 -1.37 0.78 -0.78 1.37 -0.78 -1.37 -1.37 -0.78 1.37 -0.78zM124.9 140.8l0.78 1.37 1.37 0.78 -1.37 0.78 -0.78 1.37 -0.78 -1.37 -1.37 -0.78 1.37 -0.78zM126.6 141.8l0.78 1.37 1.37 0.78 -1.37 0.78 -0.78 1.37 -0.78 -1.37 -1.37 -0.78 1.37 -0.78zM110.3 142.8l0.78 1.37 1.37 0.78 -1.37 0.78 -0.78 1.37 -0.78 -1.37 -1.37 -0.78 1.37 -0.78zM116.7 138.3l0.78 1.37 1.37 0.78 -1.37 0.78 -0.78 1.37 -0.78 -1.37 -1.37 -0.78 1.37 -0.78zM104.7 140.7l0.78 1.37 1.37 0.78 -1.37 0.78 -0.78 1.37 -0.78 -1.37 -1.37 -0.78 1.37 -0.78zM115.8 139.7l0.78 1.37 1.37 0.78 -1.37 0.78 -0.78 1.37 -0.78 -1.37 -1.37 -0.78 1.37 -0.78zM108.1 139.9l0.78 1.37 1.37 0.78 -1.37 0.78 -0.78 1.37 -0.78 -1.37 -1.37 -0.78 1.37 -0.78zM112.4 142.5l0.78 1.37 1.37 0.78 -1.37 0.78 -0.78 1.37 -0.78 -1.37 -1.37 -0.78 1.37 -0.78zM104.6 142.1l0.78 1.37 1.37 0.78 -1.37 0.78 -0.78 1.37 -0.78 -1.37 -1.37 -0.78 1.37 -0.78zM125.4 138.8l0.78 1.37 1.37 0.78 -1.37 0.78 -0.78 1.37 -0.78 -1.37 -1.37 -0.78 1.37 -0.78zM127.6 141.9l0.78 1.37 1.37 0.78 -1.37 0.78 -0.78 1.37 -0.78 -1.37 -1.37 -0.78 1.37 -0.78zM127.0 139.7l0.78 1.37 1.37 0.78 -1.37 0.78 -0.78 1.37 -0.78 -1.37 -1.37 -0.78 1.37 -0.78zM113.8 140.2l0.78 1.37 1.37 0.78 -1.37 0.78 -0.78 1.37 -0.78 -1.37 -1.37 -0.78 1.37 -0.78zM129.4 141.2l0.78 1.37 1.37 0.78 -1.37 0.78 -0.78 1.37 -0.78 -1.37 -1.37 -0.78 1.37 -0.78zM113.5 140.4l0.78 1.37 1.37 0.78 -1.37 0.78 -0.78 1.37 -0.78 -1.37 -1.37 -0.78 1.37 -0.78zM111.4 138.4l0.78 1.37 1.37 0.78 -1.37 0.78 -0.78 1.37 -0.78 -1.37 -1.37 -0.78 1.37 -0.78zM107.1 142.5l0.78 1.37 1.37 0.78 -1.37 0.78 -0.78 1.37 -0.78 -1.37 -1.37 -0.78 1.37 -0.78zM111.7 143.0l0.78 1.37 1.37 0.78 -1.37 0.78 -0.78 1.37 -0.78 -1.37 -1.37 -0.78 1.37 -0.78zM110.8 139.5l0.78 1.37 1.37 0.78 -1.37 0.78 -0.78 1.37 -0.78 -1.37 -1.37 -0.78 1.37 -0.78zM117.3 139.1l0.78 1.37 1.37 0.78 -1.37 0.78 -0.78 1.37 -0.78 -1.37 -1.37 -0.78 1.37 -0.78zM113.9 143.1l0.78 1.37 1.37 0.78 -1.37 0.78 -0.78 1.37 -0.78 -1.37 -1.37 -0.78 1.37 -0.78zM126.5 142.4l0.78 1.37 1.37 0.78 -1.37 0.78 -0.78 1.37 -0.78 -1.37 -1.37 -0.78 1.37 -0.78zM120.2 142.9l0.78 1.37 1.37 0.78 -1.37 0.78 -0.78 1.37 -0.78 -1.37 -1.37 -0.78 1.37 -0.78zM127.9 141.0l0.78 1.37 1.37 0.78 -1.37 0.78 -0.78 1.37 -0.78 -1.37 -1.37 -0.78 1.37 -0.78zM122.4 138.4l0.78 1.37 1.37 0.78 -1.37 0.78 -0.78 1.37 -0.78 -1.37 -1.37 -0.78 1.37 -0.78zM122.8 140.5l0.78 1.37 1.37 0.78 -1.37 0.78 -0.78 1.37 -0.78 -1.37 -1.37 -0.78 1.37 -0.78zM123.3 141.5l0.78 1.37 1.37 0.78 -1.37 0.78 -0.78 1.37 -0.78 -1.37 -1.37 -0.78 1.37 -0.78zM111.7 138.4l0.78 1.37 1.37 0.78 -1.37 0.78 -0.78 1.37 -0.78 -1.37 -1.37 -0.78 1.37 -0.78zM105.1 143.9l0.78 1.37 1.37 0.78 -1.37 0.78 -0.78 1.37 -0.78 -1.37 -1.37 -0.78 1.37 -0.78zM104.8 145.6l0.78 1.37 1.37 0.78 -1.37 0.78 -0.78 1.37 -0.78 -1.37 -1.37 -0.78 1.37 -0.78zM104.6 148.8l0.78 1.37 1.37 0.78 -1.37 0.78 -0.78 1.37 -0.78 -1.37 -1.37 -0.78 1.37 -0.78zM105.2 144.9l0.78 1.37 1.37 0.78 -1.37 0.78 -0.78 1.37 -0.78 -1.37 -1.37 -0.78 1.37 -0.78zM104.9 145.3l0.78 1.37 1.37 0.78 -1.37 0.78 -0.78 1.37 -0.78 -1.37 -1.37 -0.78 1.37 -0.78zM104.8 146.0l0.78 1.37 1.37 0.78 -1.37 0.78 -0.78 1.37 -0.78 -1.37 -1.37 -0.78 1.37 -0.78zM104.5 144.1l0.78 1.37 1.37 0.78 -1.37 0.78 -0.78 1.37 -0.78 -1.37 -1.37 -0.78 1.37 -0.78zM104.6 150.1l0.78 1.37 1.37 0.78 -1.37 0.78 -0.78 1.37 -0.78 -1.37 -1.37 -0.78 1.37 -0.78zM104.8 144.6l0.78 1.37 1.37 0.78 -1.37 0.78 -0.78 1.37 -0.78 -1.37 -1.37 -0.78 1.37 -0.78zM105.1 150.8l0.78 1.37 1.37 0.78 -1.37 0.78 -0.78 1.37 -0.78 -1.37 -1.37 -0.78 1.37 -0.78zM104.8 144.0l0.78 1.37 1.37 0.78 -1.37 0.78 -0.78 1.37 -0.78 -1.37 -1.37 -0.78 1.37 -0.78zM104.6 143.6l0.78 1.37 1.37 0.78 -1.37 0.78 -0.78 1.37 -0.78 -1.37 -1.37 -0.78 1.37 -0.78zM112.1 144.0l0.78 1.37 1.37 0.78 -1.37 0.78 -0.78 1.37 -0.78 -1.37 -1.37 -0.78 1.37 -0.78zM110.6 145.3l0.78 1.37 1.37 0.78 -1.37 0.78 -0.78 1.37 -0.78 -1.37 -1.37 -0.78 1.37 -0.78zM115.5 150.0l0.78 1.37 1.37 0.78 -1.37 0.78 -0.78 1.37 -0.78 -1.37 -1.37 -0.78 1.37 -0.78zM118.2 146.4l0.78 1.37 1.37 0.78 -1.37 0.78 -0.78 1.37 -0.78 -1.37 -1.37 -0.78 1.37 -0.78zM113.2 147.3l0.78 1.37 1.37 0.78 -1.37 0.78 -0.78 1.37 -0.78 -1.37 -1.37 -0.78 1.37 -0.78zM112.7 145.9l0.78 1.37 1.37 0.78 -1.37 0.78 -0.78 1.37 -0.78 -1.37 -1.37 -0.78 1.37 -0.78zM107.9 145.4l0.78 1.37 1.37 0.78 -1.37 0.78 -0.78 1.37 -0.78 -1.37 -1.37 -0.78 1.37 -0.78zM121.5 144.3l0.78 1.37 1.37 0.78 -1.37 0.78 -0.78 1.37 -0.78 -1.37 -1.37 -0.78 1.37 -0.78zM114.6 148.1l0.78 1.37 1.37 0.78 -1.37 0.78 -0.78 1.37 -0.78 -1.37 -1.37 -0.78 1.37 -0.78zM119.9 145.0l0.78 1.37 1.37 0.78 -1.37 0.78 -0.78 1.37 -0.78 -1.37 -1.37 -0.78 1.37 -0.78zM125.5 144.6l0.78 1.37 1.37 0.78 -1.37 0.78 -0.78 1.37 -0.78 -1.37 -1.37 -0.78 1.37 -0.78zM126.2 146.0l0.78 1.37 1.37 0.78 -1.37 0.78 -0.78 1.37 -0.78 -1.37 -1.37 -0.78 1.37 -0.78zM129.2 148.8l0.78 1.37 1.37 0.78 -1.37 0.78 -0.78 1.37 -0.78 -1.37 -1.37 -0.78 1.37 -0.78zM128.8 143.0l0.78 1.37 1.37 0.78 -1.37 0.78 -0.78 1.37 -0.78 -1.37 -1.37 -0.78 1.37 -0.78zM124.2 147.8l0.78 1.37 1.37 0.78 -1.37 0.78 -0.78 1.37 -0.78 -1.37 -1.37 -0.78 1.37 -0.78zM129.5 147.5l0.78 1.37 1.37 0.78 -1.37 0.78 -0.78 1.37 -0.78 -1.37 -1.37 -0.78 1.37 -0.78zM129.5 149.8l0.78 1.37 1.37 0.78 -1.37 0.78 -0.78 1.37 -0.78 -1.37 -1.37 -0.78 1.37 -0.78zM129.5 151.8l0.78 1.37 1.37 0.78 -1.37 0.78 -0.78 1.37 -0.78 -1.37 -1.37 -0.78 1.37 -0.78zM127.8 148.3l0.78 1.37 1.37 0.78 -1.37 0.78 -0.78 1.37 -0.78 -1.37 -1.37 -0.78 1.37 -0.78zM104.6 152.8l0.78 1.37 1.37 0.78 -1.37 0.78 -0.78 1.37 -0.78 -1.37 -1.37 -0.78 1.37 -0.78zM104.6 158.8l0.78 1.37 1.37 0.78 -1.37 0.78 -0.78 1.37 -0.78 -1.37 -1.37 -0.78 1.37 -0.78zM104.6 161.0l0.78 1.37 1.37 0.78 -1.37 0.78 -0.78 1.37 -0.78 -1.37 -1.37 -0.78 1.37 -0.78zM104.6 163.2l0.78 1.37 1.37 0.78 -1.37 0.78 -0.78 1.37 -0.78 -1.37 -1.37 -0.78 1.37 -0.78zM104.6 167.2l0.78 1.37 1.37 0.78 -1.37 0.78 -0.78 1.37 -0.78 -1.37 -1.37 -0.78 1.37 -0.78zM106.7 167.5l0.78 1.37 1.37 0.78 -1.37 0.78 -0.78 1.37 -0.78 -1.37 -1.37 -0.78 1.37 -0.78zM107.1 171.9l0.78 1.37 1.37 0.78 -1.37 0.78 -0.78 1.37 -0.78 -1.37 -1.37 -0.78 1.37 -0.78zM123.3 154.9l0.78 1.37 1.37 0.78 -1.37 0.78 -0.78 1.37 -0.78 -1.37 -1.37 -0.78 1.37 -0.78zM122.4 153.8l0.78 1.37 1.37 0.78 -1.37 0.78 -0.78 1.37 -0.78 -1.37 -1.37 -0.78 1.37 -0.78zM124.3 154.0l0.78 1.37 1.37 0.78 -1.37 0.78 -0.78 1.37 -0.78 -1.37 -1.37 -0.78 1.37 -0.78zM113.2 154.9l0.78 1.37 1.37 0.78 -1.37 0.78 -0.78 1.37 -0.78 -1.37 -1.37 -0.78 1.37 -0.78zM115.0 156.2l0.78 1.37 1.37 0.78 -1.37 0.78 -0.78 1.37 -0.78 -1.37 -1.37 -0.78 1.37 -0.78zM116.7 157.3l0.78 1.37 1.37 0.78 -1.37 0.78 -0.78 1.37 -0.78 -1.37 -1.37 -0.78 1.37 -0.78zM118.5 158.4l0.78 1.37 1.37 0.78 -1.37 0.78 -0.78 1.37 -0.78 -1.37 -1.37 -0.78 1.37 -0.78zM113.2 167.2l0.78 1.37 1.37 0.78 -1.37 0.78 -0.78 1.37 -0.78 -1.37 -1.37 -0.78 1.37 -0.78zM115.4 166.2l0.78 1.37 1.37 0.78 -1.37 0.78 -0.78 1.37 -0.78 -1.37 -1.37 -0.78 1.37 -0.78zM117.6 171.9l0.78 1.37 1.37 0.78 -1.37 0.78 -0.78 1.37 -0.78 -1.37 -1.37 -0.78 1.37 -0.78zM120.2 169.3l0.78 1.37 1.37 0.78 -1.37 0.78 -0.78 1.37 -0.78 -1.37 -1.37 -0.78 1.37 -0.78zM124.1 167.2l0.78 1.37 1.37 0.78 -1.37 0.78 -0.78 1.37 -0.78 -1.37 -1.37 -0.78 1.37 -0.78zM127.6 164.9l0.78 1.37 1.37 0.78 -1.37 0.78 -0.78 1.37 -0.78 -1.37 -1.37 -0.78 1.37 -0.78zM128.5 170.2l0.78 1.37 1.37 0.78 -1.37 0.78 -0.78 1.37 -0.78 -1.37 -1.37 -0.78 1.37 -0.78zM109.3 147.5l0.78 1.37 1.37 0.78 -1.37 0.78 -0.78 1.37 -0.78 -1.37 -1.37 -0.78 1.37 -0.78zM111.0 150.3l0.78 1.37 1.37 0.78 -1.37 0.78 -0.78 1.37 -0.78 -1.37 -1.37 -0.78 1.37 -0.78zM108.0 152.8l0.78 1.37 1.37 0.78 -1.37 0.78 -0.78 1.37 -0.78 -1.37 -1.37 -0.78 1.37 -0.78z" fill="#DF4F14"/>
<path d="M117.1 106V117.9M117.1 127.3V139.7M103.1 106H131.1M103.1 139.7H131.1" stroke="#F2551A" stroke-width="1.35" fill="none"/>
<rect x="103.1" y="117.9" width="28.0" height="9.40" fill="#FF8A5C"/>
<rect x="103.1" y="119.6" width="28.0" height="6.20" fill="#FB6E38"/>
<path d="M103.1 122.7H131.1" stroke="#7E3113" stroke-width="1.3" fill="none"/>
<path d="M164.5 98.0l0.78 1.37 1.37 0.78 -1.37 0.78 -0.78 1.37 -0.78 -1.37 -1.37 -0.78 1.37 -0.78zM166.0 96.1l0.78 1.37 1.37 0.78 -1.37 0.78 -0.78 1.37 -0.78 -1.37 -1.37 -0.78 1.37 -0.78zM167.5 95.0l0.78 1.37 1.37 0.78 -1.37 0.78 -0.78 1.37 -0.78 -1.37 -1.37 -0.78 1.37 -0.78zM168.5 96.8l0.78 1.37 1.37 0.78 -1.37 0.78 -0.78 1.37 -0.78 -1.37 -1.37 -0.78 1.37 -0.78zM169.5 95.8l0.78 1.37 1.37 0.78 -1.37 0.78 -0.78 1.37 -0.78 -1.37 -1.37 -0.78 1.37 -0.78zM167.0 97.6l0.78 1.37 1.37 0.78 -1.37 0.78 -0.78 1.37 -0.78 -1.37 -1.37 -0.78 1.37 -0.78zM166.5 94.3l0.78 1.37 1.37 0.78 -1.37 0.78 -0.78 1.37 -0.78 -1.37 -1.37 -0.78 1.37 -0.78zM170.0 98.3l0.78 1.37 1.37 0.78 -1.37 0.78 -0.78 1.37 -0.78 -1.37 -1.37 -0.78 1.37 -0.78zM168.0 99.3l0.78 1.37 1.37 0.78 -1.37 0.78 -0.78 1.37 -0.78 -1.37 -1.37 -0.78 1.37 -0.78zM155.5 164.7l0.78 1.37 1.37 0.78 -1.37 0.78 -0.78 1.37 -0.78 -1.37 -1.37 -0.78 1.37 -0.78zM158.5 164.7l0.78 1.37 1.37 0.78 -1.37 0.78 -0.78 1.37 -0.78 -1.37 -1.37 -0.78 1.37 -0.78zM166.0 164.3l0.78 1.37 1.37 0.78 -1.37 0.78 -0.78 1.37 -0.78 -1.37 -1.37 -0.78 1.37 -0.78zM168.0 165.3l0.78 1.37 1.37 0.78 -1.37 0.78 -0.78 1.37 -0.78 -1.37 -1.37 -0.78 1.37 -0.78zM169.5 166.2l0.78 1.37 1.37 0.78 -1.37 0.78 -0.78 1.37 -0.78 -1.37 -1.37 -0.78 1.37 -0.78zM170.5 165.0l0.78 1.37 1.37 0.78 -1.37 0.78 -0.78 1.37 -0.78 -1.37 -1.37 -0.78 1.37 -0.78zM171.5 164.4l0.78 1.37 1.37 0.78 -1.37 0.78 -0.78 1.37 -0.78 -1.37 -1.37 -0.78 1.37 -0.78zM169.0 166.8l0.78 1.37 1.37 0.78 -1.37 0.78 -0.78 1.37 -0.78 -1.37 -1.37 -0.78 1.37 -0.78z" fill="#EDB120"/>
<path d="M162.0 102.4V125.7M162.0 142.4V166.8M148.0 102.4H176.0M148.0 166.8H176.0" stroke="#EDB120" stroke-width="1.35" fill="none"/>
<rect x="148.0" y="125.7" width="28.0" height="16.70" fill="#FFC84A"/>
<rect x="148.0" y="128.2" width="28.0" height="6.40" fill="#F5BC38"/>
<path d="M148.0 131.4H176.0" stroke="#6F5410" stroke-width="1.3" fill="none"/>
<path d="M214.1 129.8l0.78 1.37 1.37 0.78 -1.37 0.78 -0.78 1.37 -0.78 -1.37 -1.37 -0.78 1.37 -0.78zM217.1 132.8l0.78 1.37 1.37 0.78 -1.37 0.78 -0.78 1.37 -0.78 -1.37 -1.37 -0.78 1.37 -0.78zM212.5 132.3l0.78 1.37 1.37 0.78 -1.37 0.78 -0.78 1.37 -0.78 -1.37 -1.37 -0.78 1.37 -0.78zM216.0 131.0l0.78 1.37 1.37 0.78 -1.37 0.78 -0.78 1.37 -0.78 -1.37 -1.37 -0.78 1.37 -0.78zM219.5 135.3l0.78 1.37 1.37 0.78 -1.37 0.78 -0.78 1.37 -0.78 -1.37 -1.37 -0.78 1.37 -0.78zM206.6 134.8l0.78 1.37 1.37 0.78 -1.37 0.78 -0.78 1.37 -0.78 -1.37 -1.37 -0.78 1.37 -0.78zM201.6 137.8l0.78 1.37 1.37 0.78 -1.37 0.78 -0.78 1.37 -0.78 -1.37 -1.37 -0.78 1.37 -0.78zM193.6 145.4l0.78 1.37 1.37 0.78 -1.37 0.78 -0.78 1.37 -0.78 -1.37 -1.37 -0.78 1.37 -0.78zM195.2 144.2l0.78 1.37 1.37 0.78 -1.37 0.78 -0.78 1.37 -0.78 -1.37 -1.37 -0.78 1.37 -0.78zM217.1 139.2l0.78 1.37 1.37 0.78 -1.37 0.78 -0.78 1.37 -0.78 -1.37 -1.37 -0.78 1.37 -0.78zM204.8 146.2l0.78 1.37 1.37 0.78 -1.37 0.78 -0.78 1.37 -0.78 -1.37 -1.37 -0.78 1.37 -0.78zM215.4 145.1l0.78 1.37 1.37 0.78 -1.37 0.78 -0.78 1.37 -0.78 -1.37 -1.37 -0.78 1.37 -0.78zM218.9 135.7l0.78 1.37 1.37 0.78 -1.37 0.78 -0.78 1.37 -0.78 -1.37 -1.37 -0.78 1.37 -0.78zM208.0 142.4l0.78 1.37 1.37 0.78 -1.37 0.78 -0.78 1.37 -0.78 -1.37 -1.37 -0.78 1.37 -0.78zM218.2 143.0l0.78 1.37 1.37 0.78 -1.37 0.78 -0.78 1.37 -0.78 -1.37 -1.37 -0.78 1.37 -0.78zM211.0 143.7l0.78 1.37 1.37 0.78 -1.37 0.78 -0.78 1.37 -0.78 -1.37 -1.37 -0.78 1.37 -0.78zM206.4 140.4l0.78 1.37 1.37 0.78 -1.37 0.78 -0.78 1.37 -0.78 -1.37 -1.37 -0.78 1.37 -0.78zM196.3 144.0l0.78 1.37 1.37 0.78 -1.37 0.78 -0.78 1.37 -0.78 -1.37 -1.37 -0.78 1.37 -0.78zM201.0 146.1l0.78 1.37 1.37 0.78 -1.37 0.78 -0.78 1.37 -0.78 -1.37 -1.37 -0.78 1.37 -0.78zM211.0 136.6l0.78 1.37 1.37 0.78 -1.37 0.78 -0.78 1.37 -0.78 -1.37 -1.37 -0.78 1.37 -0.78zM210.8 142.7l0.78 1.37 1.37 0.78 -1.37 0.78 -0.78 1.37 -0.78 -1.37 -1.37 -0.78 1.37 -0.78zM208.0 140.9l0.78 1.37 1.37 0.78 -1.37 0.78 -0.78 1.37 -0.78 -1.37 -1.37 -0.78 1.37 -0.78zM202.6 139.0l0.78 1.37 1.37 0.78 -1.37 0.78 -0.78 1.37 -0.78 -1.37 -1.37 -0.78 1.37 -0.78zM218.6 141.8l0.78 1.37 1.37 0.78 -1.37 0.78 -0.78 1.37 -0.78 -1.37 -1.37 -0.78 1.37 -0.78zM216.8 139.2l0.78 1.37 1.37 0.78 -1.37 0.78 -0.78 1.37 -0.78 -1.37 -1.37 -0.78 1.37 -0.78zM218.6 142.8l0.78 1.37 1.37 0.78 -1.37 0.78 -0.78 1.37 -0.78 -1.37 -1.37 -0.78 1.37 -0.78zM207.4 142.3l0.78 1.37 1.37 0.78 -1.37 0.78 -0.78 1.37 -0.78 -1.37 -1.37 -0.78 1.37 -0.78zM211.5 146.2l0.78 1.37 1.37 0.78 -1.37 0.78 -0.78 1.37 -0.78 -1.37 -1.37 -0.78 1.37 -0.78zM203.5 138.4l0.78 1.37 1.37 0.78 -1.37 0.78 -0.78 1.37 -0.78 -1.37 -1.37 -0.78 1.37 -0.78zM211.9 134.9l0.78 1.37 1.37 0.78 -1.37 0.78 -0.78 1.37 -0.78 -1.37 -1.37 -0.78 1.37 -0.78zM214.7 143.3l0.78 1.37 1.37 0.78 -1.37 0.78 -0.78 1.37 -0.78 -1.37 -1.37 -0.78 1.37 -0.78zM218.9 136.7l0.78 1.37 1.37 0.78 -1.37 0.78 -0.78 1.37 -0.78 -1.37 -1.37 -0.78 1.37 -0.78zM215.2 135.4l0.78 1.37 1.37 0.78 -1.37 0.78 -0.78 1.37 -0.78 -1.37 -1.37 -0.78 1.37 -0.78zM200.7 143.6l0.78 1.37 1.37 0.78 -1.37 0.78 -0.78 1.37 -0.78 -1.37 -1.37 -0.78 1.37 -0.78zM202.5 146.6l0.78 1.37 1.37 0.78 -1.37 0.78 -0.78 1.37 -0.78 -1.37 -1.37 -0.78 1.37 -0.78zM211.5 146.6l0.78 1.37 1.37 0.78 -1.37 0.78 -0.78 1.37 -0.78 -1.37 -1.37 -0.78 1.37 -0.78zM200.5 146.9l0.78 1.37 1.37 0.78 -1.37 0.78 -0.78 1.37 -0.78 -1.37 -1.37 -0.78 1.37 -0.78zM217.1 145.5l0.78 1.37 1.37 0.78 -1.37 0.78 -0.78 1.37 -0.78 -1.37 -1.37 -0.78 1.37 -0.78zM213.1 147.3l0.78 1.37 1.37 0.78 -1.37 0.78 -0.78 1.37 -0.78 -1.37 -1.37 -0.78 1.37 -0.78zM217.9 137.0l0.78 1.37 1.37 0.78 -1.37 0.78 -0.78 1.37 -0.78 -1.37 -1.37 -0.78 1.37 -0.78zM199.8 146.4l0.78 1.37 1.37 0.78 -1.37 0.78 -0.78 1.37 -0.78 -1.37 -1.37 -0.78 1.37 -0.78zM213.4 132.3l0.78 1.37 1.37 0.78 -1.37 0.78 -0.78 1.37 -0.78 -1.37 -1.37 -0.78 1.37 -0.78zM211.4 137.7l0.78 1.37 1.37 0.78 -1.37 0.78 -0.78 1.37 -0.78 -1.37 -1.37 -0.78 1.37 -0.78zM204.4 137.0l0.78 1.37 1.37 0.78 -1.37 0.78 -0.78 1.37 -0.78 -1.37 -1.37 -0.78 1.37 -0.78zM218.5 133.8l0.78 1.37 1.37 0.78 -1.37 0.78 -0.78 1.37 -0.78 -1.37 -1.37 -0.78 1.37 -0.78zM218.7 135.1l0.78 1.37 1.37 0.78 -1.37 0.78 -0.78 1.37 -0.78 -1.37 -1.37 -0.78 1.37 -0.78zM204.0 144.6l0.78 1.37 1.37 0.78 -1.37 0.78 -0.78 1.37 -0.78 -1.37 -1.37 -0.78 1.37 -0.78zM215.3 138.6l0.78 1.37 1.37 0.78 -1.37 0.78 -0.78 1.37 -0.78 -1.37 -1.37 -0.78 1.37 -0.78zM204.4 146.1l0.78 1.37 1.37 0.78 -1.37 0.78 -0.78 1.37 -0.78 -1.37 -1.37 -0.78 1.37 -0.78zM205.3 144.4l0.78 1.37 1.37 0.78 -1.37 0.78 -0.78 1.37 -0.78 -1.37 -1.37 -0.78 1.37 -0.78zM213.9 132.5l0.78 1.37 1.37 0.78 -1.37 0.78 -0.78 1.37 -0.78 -1.37 -1.37 -0.78 1.37 -0.78zM217.7 135.8l0.78 1.37 1.37 0.78 -1.37 0.78 -0.78 1.37 -0.78 -1.37 -1.37 -0.78 1.37 -0.78zM213.5 145.8l0.78 1.37 1.37 0.78 -1.37 0.78 -0.78 1.37 -0.78 -1.37 -1.37 -0.78 1.37 -0.78zM218.6 141.4l0.78 1.37 1.37 0.78 -1.37 0.78 -0.78 1.37 -0.78 -1.37 -1.37 -0.78 1.37 -0.78zM201.7 143.0l0.78 1.37 1.37 0.78 -1.37 0.78 -0.78 1.37 -0.78 -1.37 -1.37 -0.78 1.37 -0.78zM217.6 141.7l0.78 1.37 1.37 0.78 -1.37 0.78 -0.78 1.37 -0.78 -1.37 -1.37 -0.78 1.37 -0.78zM218.5 146.6l0.78 1.37 1.37 0.78 -1.37 0.78 -0.78 1.37 -0.78 -1.37 -1.37 -0.78 1.37 -0.78zM205.7 139.5l0.78 1.37 1.37 0.78 -1.37 0.78 -0.78 1.37 -0.78 -1.37 -1.37 -0.78 1.37 -0.78zM217.9 134.7l0.78 1.37 1.37 0.78 -1.37 0.78 -0.78 1.37 -0.78 -1.37 -1.37 -0.78 1.37 -0.78zM214.8 143.3l0.78 1.37 1.37 0.78 -1.37 0.78 -0.78 1.37 -0.78 -1.37 -1.37 -0.78 1.37 -0.78zM215.3 143.8l0.78 1.37 1.37 0.78 -1.37 0.78 -0.78 1.37 -0.78 -1.37 -1.37 -0.78 1.37 -0.78zM210.1 136.9l0.78 1.37 1.37 0.78 -1.37 0.78 -0.78 1.37 -0.78 -1.37 -1.37 -0.78 1.37 -0.78zM214.3 133.1l0.78 1.37 1.37 0.78 -1.37 0.78 -0.78 1.37 -0.78 -1.37 -1.37 -0.78 1.37 -0.78zM200.1 143.5l0.78 1.37 1.37 0.78 -1.37 0.78 -0.78 1.37 -0.78 -1.37 -1.37 -0.78 1.37 -0.78zM203.2 147.0l0.78 1.37 1.37 0.78 -1.37 0.78 -0.78 1.37 -0.78 -1.37 -1.37 -0.78 1.37 -0.78zM216.8 147.2l0.78 1.37 1.37 0.78 -1.37 0.78 -0.78 1.37 -0.78 -1.37 -1.37 -0.78 1.37 -0.78zM212.5 138.8l0.78 1.37 1.37 0.78 -1.37 0.78 -0.78 1.37 -0.78 -1.37 -1.37 -0.78 1.37 -0.78zM210.4 142.3l0.78 1.37 1.37 0.78 -1.37 0.78 -0.78 1.37 -0.78 -1.37 -1.37 -0.78 1.37 -0.78zM213.5 145.0l0.78 1.37 1.37 0.78 -1.37 0.78 -0.78 1.37 -0.78 -1.37 -1.37 -0.78 1.37 -0.78zM211.4 133.7l0.78 1.37 1.37 0.78 -1.37 0.78 -0.78 1.37 -0.78 -1.37 -1.37 -0.78 1.37 -0.78zM215.7 136.4l0.78 1.37 1.37 0.78 -1.37 0.78 -0.78 1.37 -0.78 -1.37 -1.37 -0.78 1.37 -0.78zM209.1 137.6l0.78 1.37 1.37 0.78 -1.37 0.78 -0.78 1.37 -0.78 -1.37 -1.37 -0.78 1.37 -0.78zM213.2 134.9l0.78 1.37 1.37 0.78 -1.37 0.78 -0.78 1.37 -0.78 -1.37 -1.37 -0.78 1.37 -0.78zM199.0 145.6l0.78 1.37 1.37 0.78 -1.37 0.78 -0.78 1.37 -0.78 -1.37 -1.37 -0.78 1.37 -0.78zM209.4 136.9l0.78 1.37 1.37 0.78 -1.37 0.78 -0.78 1.37 -0.78 -1.37 -1.37 -0.78 1.37 -0.78zM204.9 147.2l0.78 1.37 1.37 0.78 -1.37 0.78 -0.78 1.37 -0.78 -1.37 -1.37 -0.78 1.37 -0.78zM207.6 135.4l0.78 1.37 1.37 0.78 -1.37 0.78 -0.78 1.37 -0.78 -1.37 -1.37 -0.78 1.37 -0.78zM214.9 142.0l0.78 1.37 1.37 0.78 -1.37 0.78 -0.78 1.37 -0.78 -1.37 -1.37 -0.78 1.37 -0.78zM206.8 144.5l0.78 1.37 1.37 0.78 -1.37 0.78 -0.78 1.37 -0.78 -1.37 -1.37 -0.78 1.37 -0.78zM215.7 146.0l0.78 1.37 1.37 0.78 -1.37 0.78 -0.78 1.37 -0.78 -1.37 -1.37 -0.78 1.37 -0.78zM218.9 140.9l0.78 1.37 1.37 0.78 -1.37 0.78 -0.78 1.37 -0.78 -1.37 -1.37 -0.78 1.37 -0.78zM217.9 137.6l0.78 1.37 1.37 0.78 -1.37 0.78 -0.78 1.37 -0.78 -1.37 -1.37 -0.78 1.37 -0.78zM216.3 138.8l0.78 1.37 1.37 0.78 -1.37 0.78 -0.78 1.37 -0.78 -1.37 -1.37 -0.78 1.37 -0.78zM201.6 143.9l0.78 1.37 1.37 0.78 -1.37 0.78 -0.78 1.37 -0.78 -1.37 -1.37 -0.78 1.37 -0.78zM218.3 147.7l0.78 1.37 1.37 0.78 -1.37 0.78 -0.78 1.37 -0.78 -1.37 -1.37 -0.78 1.37 -0.78zM209.8 150.4l0.78 1.37 1.37 0.78 -1.37 0.78 -0.78 1.37 -0.78 -1.37 -1.37 -0.78 1.37 -0.78zM200.6 149.1l0.78 1.37 1.37 0.78 -1.37 0.78 -0.78 1.37 -0.78 -1.37 -1.37 -0.78 1.37 -0.78zM198.7 148.2l0.78 1.37 1.37 0.78 -1.37 0.78 -0.78 1.37 -0.78 -1.37 -1.37 -0.78 1.37 -0.78zM201.5 150.3l0.78 1.37 1.37 0.78 -1.37 0.78 -0.78 1.37 -0.78 -1.37 -1.37 -0.78 1.37 -0.78zM211.1 148.2l0.78 1.37 1.37 0.78 -1.37 0.78 -0.78 1.37 -0.78 -1.37 -1.37 -0.78 1.37 -0.78zM195.6 148.9l0.78 1.37 1.37 0.78 -1.37 0.78 -0.78 1.37 -0.78 -1.37 -1.37 -0.78 1.37 -0.78zM211.8 148.1l0.78 1.37 1.37 0.78 -1.37 0.78 -0.78 1.37 -0.78 -1.37 -1.37 -0.78 1.37 -0.78zM202.9 148.2l0.78 1.37 1.37 0.78 -1.37 0.78 -0.78 1.37 -0.78 -1.37 -1.37 -0.78 1.37 -0.78zM214.6 150.1l0.78 1.37 1.37 0.78 -1.37 0.78 -0.78 1.37 -0.78 -1.37 -1.37 -0.78 1.37 -0.78zM196.8 147.7l0.78 1.37 1.37 0.78 -1.37 0.78 -0.78 1.37 -0.78 -1.37 -1.37 -0.78 1.37 -0.78zM204.9 150.1l0.78 1.37 1.37 0.78 -1.37 0.78 -0.78 1.37 -0.78 -1.37 -1.37 -0.78 1.37 -0.78zM210.8 147.6l0.78 1.37 1.37 0.78 -1.37 0.78 -0.78 1.37 -0.78 -1.37 -1.37 -0.78 1.37 -0.78zM199.3 150.8l0.78 1.37 1.37 0.78 -1.37 0.78 -0.78 1.37 -0.78 -1.37 -1.37 -0.78 1.37 -0.78zM205.3 148.7l0.78 1.37 1.37 0.78 -1.37 0.78 -0.78 1.37 -0.78 -1.37 -1.37 -0.78 1.37 -0.78zM202.8 152.2l0.78 1.37 1.37 0.78 -1.37 0.78 -0.78 1.37 -0.78 -1.37 -1.37 -0.78 1.37 -0.78zM202.9 150.2l0.78 1.37 1.37 0.78 -1.37 0.78 -0.78 1.37 -0.78 -1.37 -1.37 -0.78 1.37 -0.78zM204.0 149.4l0.78 1.37 1.37 0.78 -1.37 0.78 -0.78 1.37 -0.78 -1.37 -1.37 -0.78 1.37 -0.78zM216.3 152.4l0.78 1.37 1.37 0.78 -1.37 0.78 -0.78 1.37 -0.78 -1.37 -1.37 -0.78 1.37 -0.78zM204.1 148.2l0.78 1.37 1.37 0.78 -1.37 0.78 -0.78 1.37 -0.78 -1.37 -1.37 -0.78 1.37 -0.78zM213.0 148.2l0.78 1.37 1.37 0.78 -1.37 0.78 -0.78 1.37 -0.78 -1.37 -1.37 -0.78 1.37 -0.78zM195.4 151.9l0.78 1.37 1.37 0.78 -1.37 0.78 -0.78 1.37 -0.78 -1.37 -1.37 -0.78 1.37 -0.78zM205.6 151.5l0.78 1.37 1.37 0.78 -1.37 0.78 -0.78 1.37 -0.78 -1.37 -1.37 -0.78 1.37 -0.78zM205.2 151.8l0.78 1.37 1.37 0.78 -1.37 0.78 -0.78 1.37 -0.78 -1.37 -1.37 -0.78 1.37 -0.78zM206.5 148.0l0.78 1.37 1.37 0.78 -1.37 0.78 -0.78 1.37 -0.78 -1.37 -1.37 -0.78 1.37 -0.78zM195.7 150.1l0.78 1.37 1.37 0.78 -1.37 0.78 -0.78 1.37 -0.78 -1.37 -1.37 -0.78 1.37 -0.78zM210.9 152.0l0.78 1.37 1.37 0.78 -1.37 0.78 -0.78 1.37 -0.78 -1.37 -1.37 -0.78 1.37 -0.78zM197.5 150.4l0.78 1.37 1.37 0.78 -1.37 0.78 -0.78 1.37 -0.78 -1.37 -1.37 -0.78 1.37 -0.78zM204.3 149.8l0.78 1.37 1.37 0.78 -1.37 0.78 -0.78 1.37 -0.78 -1.37 -1.37 -0.78 1.37 -0.78zM198.8 148.7l0.78 1.37 1.37 0.78 -1.37 0.78 -0.78 1.37 -0.78 -1.37 -1.37 -0.78 1.37 -0.78zM208.0 152.1l0.78 1.37 1.37 0.78 -1.37 0.78 -0.78 1.37 -0.78 -1.37 -1.37 -0.78 1.37 -0.78zM197.9 149.7l0.78 1.37 1.37 0.78 -1.37 0.78 -0.78 1.37 -0.78 -1.37 -1.37 -0.78 1.37 -0.78zM214.9 152.3l0.78 1.37 1.37 0.78 -1.37 0.78 -0.78 1.37 -0.78 -1.37 -1.37 -0.78 1.37 -0.78zM200.1 147.8l0.78 1.37 1.37 0.78 -1.37 0.78 -0.78 1.37 -0.78 -1.37 -1.37 -0.78 1.37 -0.78zM218.2 152.3l0.78 1.37 1.37 0.78 -1.37 0.78 -0.78 1.37 -0.78 -1.37 -1.37 -0.78 1.37 -0.78zM207.0 147.4l0.78 1.37 1.37 0.78 -1.37 0.78 -0.78 1.37 -0.78 -1.37 -1.37 -0.78 1.37 -0.78zM217.8 149.2l0.78 1.37 1.37 0.78 -1.37 0.78 -0.78 1.37 -0.78 -1.37 -1.37 -0.78 1.37 -0.78zM217.3 150.4l0.78 1.37 1.37 0.78 -1.37 0.78 -0.78 1.37 -0.78 -1.37 -1.37 -0.78 1.37 -0.78zM215.3 148.0l0.78 1.37 1.37 0.78 -1.37 0.78 -0.78 1.37 -0.78 -1.37 -1.37 -0.78 1.37 -0.78zM214.4 148.3l0.78 1.37 1.37 0.78 -1.37 0.78 -0.78 1.37 -0.78 -1.37 -1.37 -0.78 1.37 -0.78zM205.1 151.6l0.78 1.37 1.37 0.78 -1.37 0.78 -0.78 1.37 -0.78 -1.37 -1.37 -0.78 1.37 -0.78zM215.4 148.1l0.78 1.37 1.37 0.78 -1.37 0.78 -0.78 1.37 -0.78 -1.37 -1.37 -0.78 1.37 -0.78zM200.6 149.3l0.78 1.37 1.37 0.78 -1.37 0.78 -0.78 1.37 -0.78 -1.37 -1.37 -0.78 1.37 -0.78zM207.9 149.2l0.78 1.37 1.37 0.78 -1.37 0.78 -0.78 1.37 -0.78 -1.37 -1.37 -0.78 1.37 -0.78zM198.3 148.5l0.78 1.37 1.37 0.78 -1.37 0.78 -0.78 1.37 -0.78 -1.37 -1.37 -0.78 1.37 -0.78zM212.9 151.9l0.78 1.37 1.37 0.78 -1.37 0.78 -0.78 1.37 -0.78 -1.37 -1.37 -0.78 1.37 -0.78zM196.3 150.1l0.78 1.37 1.37 0.78 -1.37 0.78 -0.78 1.37 -0.78 -1.37 -1.37 -0.78 1.37 -0.78zM213.7 147.4l0.78 1.37 1.37 0.78 -1.37 0.78 -0.78 1.37 -0.78 -1.37 -1.37 -0.78 1.37 -0.78zM215.7 147.8l0.78 1.37 1.37 0.78 -1.37 0.78 -0.78 1.37 -0.78 -1.37 -1.37 -0.78 1.37 -0.78zM209.9 150.1l0.78 1.37 1.37 0.78 -1.37 0.78 -0.78 1.37 -0.78 -1.37 -1.37 -0.78 1.37 -0.78zM210.5 148.8l0.78 1.37 1.37 0.78 -1.37 0.78 -0.78 1.37 -0.78 -1.37 -1.37 -0.78 1.37 -0.78zM205.5 150.2l0.78 1.37 1.37 0.78 -1.37 0.78 -0.78 1.37 -0.78 -1.37 -1.37 -0.78 1.37 -0.78zM205.6 150.6l0.78 1.37 1.37 0.78 -1.37 0.78 -0.78 1.37 -0.78 -1.37 -1.37 -0.78 1.37 -0.78zM206.2 149.5l0.78 1.37 1.37 0.78 -1.37 0.78 -0.78 1.37 -0.78 -1.37 -1.37 -0.78 1.37 -0.78zM195.9 150.4l0.78 1.37 1.37 0.78 -1.37 0.78 -0.78 1.37 -0.78 -1.37 -1.37 -0.78 1.37 -0.78zM207.2 148.4l0.78 1.37 1.37 0.78 -1.37 0.78 -0.78 1.37 -0.78 -1.37 -1.37 -0.78 1.37 -0.78zM213.9 151.3l0.78 1.37 1.37 0.78 -1.37 0.78 -0.78 1.37 -0.78 -1.37 -1.37 -0.78 1.37 -0.78zM206.4 148.1l0.78 1.37 1.37 0.78 -1.37 0.78 -0.78 1.37 -0.78 -1.37 -1.37 -0.78 1.37 -0.78zM206.8 147.7l0.78 1.37 1.37 0.78 -1.37 0.78 -0.78 1.37 -0.78 -1.37 -1.37 -0.78 1.37 -0.78zM198.4 149.4l0.78 1.37 1.37 0.78 -1.37 0.78 -0.78 1.37 -0.78 -1.37 -1.37 -0.78 1.37 -0.78zM197.5 149.5l0.78 1.37 1.37 0.78 -1.37 0.78 -0.78 1.37 -0.78 -1.37 -1.37 -0.78 1.37 -0.78zM207.7 147.4l0.78 1.37 1.37 0.78 -1.37 0.78 -0.78 1.37 -0.78 -1.37 -1.37 -0.78 1.37 -0.78zM210.8 147.6l0.78 1.37 1.37 0.78 -1.37 0.78 -0.78 1.37 -0.78 -1.37 -1.37 -0.78 1.37 -0.78zM213.1 151.3l0.78 1.37 1.37 0.78 -1.37 0.78 -0.78 1.37 -0.78 -1.37 -1.37 -0.78 1.37 -0.78zM207.7 147.4l0.78 1.37 1.37 0.78 -1.37 0.78 -0.78 1.37 -0.78 -1.37 -1.37 -0.78 1.37 -0.78zM207.5 149.2l0.78 1.37 1.37 0.78 -1.37 0.78 -0.78 1.37 -0.78 -1.37 -1.37 -0.78 1.37 -0.78zM218.4 147.9l0.78 1.37 1.37 0.78 -1.37 0.78 -0.78 1.37 -0.78 -1.37 -1.37 -0.78 1.37 -0.78zM216.1 152.4l0.78 1.37 1.37 0.78 -1.37 0.78 -0.78 1.37 -0.78 -1.37 -1.37 -0.78 1.37 -0.78zM213.1 151.5l0.78 1.37 1.37 0.78 -1.37 0.78 -0.78 1.37 -0.78 -1.37 -1.37 -0.78 1.37 -0.78zM200.0 152.4l0.78 1.37 1.37 0.78 -1.37 0.78 -0.78 1.37 -0.78 -1.37 -1.37 -0.78 1.37 -0.78zM207.3 152.2l0.78 1.37 1.37 0.78 -1.37 0.78 -0.78 1.37 -0.78 -1.37 -1.37 -0.78 1.37 -0.78zM217.6 148.0l0.78 1.37 1.37 0.78 -1.37 0.78 -0.78 1.37 -0.78 -1.37 -1.37 -0.78 1.37 -0.78zM214.5 152.1l0.78 1.37 1.37 0.78 -1.37 0.78 -0.78 1.37 -0.78 -1.37 -1.37 -0.78 1.37 -0.78zM196.9 149.0l0.78 1.37 1.37 0.78 -1.37 0.78 -0.78 1.37 -0.78 -1.37 -1.37 -0.78 1.37 -0.78zM213.7 148.0l0.78 1.37 1.37 0.78 -1.37 0.78 -0.78 1.37 -0.78 -1.37 -1.37 -0.78 1.37 -0.78zM217.1 148.6l0.78 1.37 1.37 0.78 -1.37 0.78 -0.78 1.37 -0.78 -1.37 -1.37 -0.78 1.37 -0.78zM215.1 147.9l0.78 1.37 1.37 0.78 -1.37 0.78 -0.78 1.37 -0.78 -1.37 -1.37 -0.78 1.37 -0.78zM207.5 152.0l0.78 1.37 1.37 0.78 -1.37 0.78 -0.78 1.37 -0.78 -1.37 -1.37 -0.78 1.37 -0.78zM200.4 148.5l0.78 1.37 1.37 0.78 -1.37 0.78 -0.78 1.37 -0.78 -1.37 -1.37 -0.78 1.37 -0.78zM207.6 148.8l0.78 1.37 1.37 0.78 -1.37 0.78 -0.78 1.37 -0.78 -1.37 -1.37 -0.78 1.37 -0.78z" fill="#7E2F8E"/>
<path d="M206.9 154.7V160.4M206.9 165.5V171.6M192.9 154.7H220.9M192.9 171.6H220.9" stroke="#7E2F8E" stroke-width="1.35" fill="none"/>
<rect x="192.9" y="160.4" width="28.0" height="5.10" fill="#B056BF"/>
<rect x="192.9" y="161.3" width="28.0" height="3.40" fill="#9A3FAA"/>
<path d="M192.9 163H220.9" stroke="#45144F" stroke-width="1.3" fill="none"/>
</g>
<g id="plot-b">
<path d="M317.5 21.9V208.3H541.7" fill="none" stroke="#858585" stroke-width="0.95"/>
<path d="M317.5 22.40000000000009h2.3M317.5 45.637499999999875h2.3M317.5 68.87499999999989h2.3M317.5 92.11249999999991h2.3M317.5 115.34999999999992h2.3M317.5 138.58749999999995h2.3M317.5 161.82499999999996h2.3M317.5 185.0625h2.3M317.5 208.3h2.3M345.9 208.3v-2.3M401.8 208.3v-2.3M457.7 208.3v-2.3M513.6 208.3v-2.3" fill="none" stroke="#858585" stroke-width="0.8"/>
<text x="314.8" y="26.1" text-anchor="end" class="tk">0.58</text>
<text x="314.8" y="49.3" text-anchor="end" class="tk">0.57</text>
<text x="314.8" y="72.6" text-anchor="end" class="tk">0.56</text>
<text x="314.8" y="95.8" text-anchor="end" class="tk">0.55</text>
<text x="314.8" y="119.0" text-anchor="end" class="tk">0.54</text>
<text x="314.8" y="142.3" text-anchor="end" class="tk">0.53</text>
<text x="314.8" y="165.5" text-anchor="end" class="tk">0.52</text>
<text x="314.8" y="188.8" text-anchor="end" class="tk">0.51</text>
<text x="314.8" y="212.0" text-anchor="end" class="tk">0.5</text>
<text x="345.9" y="220.1" text-anchor="middle" class="tx">class N</text>
<text x="401.8" y="220.1" text-anchor="middle" class="tx">class S</text>
<text x="457.7" y="220.1" text-anchor="middle" class="tx">class V</text>
<text x="513.6" y="220.1" text-anchor="middle" class="tx">class F</text>
<text x="429.8" y="18.5" text-anchor="middle" class="tt">Spectral Brightness</text>
<path d="M345.9 122.7V134.1M345.9 143.6V154.5M328.9 122.7H362.9M328.9 154.5H362.9" stroke="#0072BD" stroke-width="1.35" fill="none"/>
<rect x="328.9" y="134.1" width="34" height="9.50" fill="#2FA0DB"/>
<rect x="328.9" y="136.2" width="34" height="6.20" fill="#0E8DD1"/>
<path d="M328.9 139.8H362.9" stroke="#0B3A60" stroke-width="1.3" fill="none"/>
<path d="M387.3 33.6l0.78 1.37 1.37 0.78 -1.37 0.78 -0.78 1.37 -0.78 -1.37 -1.37 -0.78 1.37 -0.78zM418.2 39.0l0.78 1.37 1.37 0.78 -1.37 0.78 -0.78 1.37 -0.78 -1.37 -1.37 -0.78 1.37 -0.78zM399.6 52.8l0.78 1.37 1.37 0.78 -1.37 0.78 -0.78 1.37 -0.78 -1.37 -1.37 -0.78 1.37 -0.78zM413.4 63.1l0.78 1.37 1.37 0.78 -1.37 0.78 -0.78 1.37 -0.78 -1.37 -1.37 -0.78 1.37 -0.78zM414.8 68.3l0.78 1.37 1.37 0.78 -1.37 0.78 -0.78 1.37 -0.78 -1.37 -1.37 -0.78 1.37 -0.78zM416.3 70.1l0.78 1.37 1.37 0.78 -1.37 0.78 -0.78 1.37 -0.78 -1.37 -1.37 -0.78 1.37 -0.78zM418.2 73.4l0.78 1.37 1.37 0.78 -1.37 0.78 -0.78 1.37 -0.78 -1.37 -1.37 -0.78 1.37 -0.78zM404.7 73.6l0.78 1.37 1.37 0.78 -1.37 0.78 -0.78 1.37 -0.78 -1.37 -1.37 -0.78 1.37 -0.78zM417.6 80.6l0.78 1.37 1.37 0.78 -1.37 0.78 -0.78 1.37 -0.78 -1.37 -1.37 -0.78 1.37 -0.78zM417.6 82.8l0.78 1.37 1.37 0.78 -1.37 0.78 -0.78 1.37 -0.78 -1.37 -1.37 -0.78 1.37 -0.78zM417.6 85.0l0.78 1.37 1.37 0.78 -1.37 0.78 -0.78 1.37 -0.78 -1.37 -1.37 -0.78 1.37 -0.78zM417.6 87.2l0.78 1.37 1.37 0.78 -1.37 0.78 -0.78 1.37 -0.78 -1.37 -1.37 -0.78 1.37 -0.78zM405.9 83.8l0.78 1.37 1.37 0.78 -1.37 0.78 -0.78 1.37 -0.78 -1.37 -1.37 -0.78 1.37 -0.78zM389.8 84.4l0.78 1.37 1.37 0.78 -1.37 0.78 -0.78 1.37 -0.78 -1.37 -1.37 -0.78 1.37 -0.78zM414.8 94.4l0.78 1.37 1.37 0.78 -1.37 0.78 -0.78 1.37 -0.78 -1.37 -1.37 -0.78 1.37 -0.78zM414.2 97.0l0.78 1.37 1.37 0.78 -1.37 0.78 -0.78 1.37 -0.78 -1.37 -1.37 -0.78 1.37 -0.78zM398.7 95.8l0.78 1.37 1.37 0.78 -1.37 0.78 -0.78 1.37 -0.78 -1.37 -1.37 -0.78 1.37 -0.78zM395.5 99.9l0.78 1.37 1.37 0.78 -1.37 0.78 -0.78 1.37 -0.78 -1.37 -1.37 -0.78 1.37 -0.78zM403.4 100.5l0.78 1.37 1.37 0.78 -1.37 0.78 -0.78 1.37 -0.78 -1.37 -1.37 -0.78 1.37 -0.78zM400.6 103.3l0.78 1.37 1.37 0.78 -1.37 0.78 -0.78 1.37 -0.78 -1.37 -1.37 -0.78 1.37 -0.78zM402.1 105.2l0.78 1.37 1.37 0.78 -1.37 0.78 -0.78 1.37 -0.78 -1.37 -1.37 -0.78 1.37 -0.78zM403.4 107.5l0.78 1.37 1.37 0.78 -1.37 0.78 -0.78 1.37 -0.78 -1.37 -1.37 -0.78 1.37 -0.78zM410.0 103.3l0.78 1.37 1.37 0.78 -1.37 0.78 -0.78 1.37 -0.78 -1.37 -1.37 -0.78 1.37 -0.78zM411.4 101.4l0.78 1.37 1.37 0.78 -1.37 0.78 -0.78 1.37 -0.78 -1.37 -1.37 -0.78 1.37 -0.78zM417.6 103.3l0.78 1.37 1.37 0.78 -1.37 0.78 -0.78 1.37 -0.78 -1.37 -1.37 -0.78 1.37 -0.78zM415.3 108.6l0.78 1.37 1.37 0.78 -1.37 0.78 -0.78 1.37 -0.78 -1.37 -1.37 -0.78 1.37 -0.78zM414.2 111.8l0.78 1.37 1.37 0.78 -1.37 0.78 -0.78 1.37 -0.78 -1.37 -1.37 -0.78 1.37 -0.78zM413.8 113.8l0.78 1.37 1.37 0.78 -1.37 0.78 -0.78 1.37 -0.78 -1.37 -1.37 -0.78 1.37 -0.78zM388.5 110.8l0.78 1.37 1.37 0.78 -1.37 0.78 -0.78 1.37 -0.78 -1.37 -1.37 -0.78 1.37 -0.78zM390.3 111.8l0.78 1.37 1.37 0.78 -1.37 0.78 -0.78 1.37 -0.78 -1.37 -1.37 -0.78 1.37 -0.78zM391.0 113.8l0.78 1.37 1.37 0.78 -1.37 0.78 -0.78 1.37 -0.78 -1.37 -1.37 -0.78 1.37 -0.78zM389.0 114.3l0.78 1.37 1.37 0.78 -1.37 0.78 -0.78 1.37 -0.78 -1.37 -1.37 -0.78 1.37 -0.78zM416.0 114.3l0.78 1.37 1.37 0.78 -1.37 0.78 -0.78 1.37 -0.78 -1.37 -1.37 -0.78 1.37 -0.78zM418.0 113.8l0.78 1.37 1.37 0.78 -1.37 0.78 -0.78 1.37 -0.78 -1.37 -1.37 -0.78 1.37 -0.78zM387.0 39.9l0.78 1.37 1.37 0.78 -1.37 0.78 -0.78 1.37 -0.78 -1.37 -1.37 -0.78 1.37 -0.78zM387.1 41.4l0.78 1.37 1.37 0.78 -1.37 0.78 -0.78 1.37 -0.78 -1.37 -1.37 -0.78 1.37 -0.78zM387.4 44.5l0.78 1.37 1.37 0.78 -1.37 0.78 -0.78 1.37 -0.78 -1.37 -1.37 -0.78 1.37 -0.78zM387.1 47.5l0.78 1.37 1.37 0.78 -1.37 0.78 -0.78 1.37 -0.78 -1.37 -1.37 -0.78 1.37 -0.78zM387.1 50.2l0.78 1.37 1.37 0.78 -1.37 0.78 -0.78 1.37 -0.78 -1.37 -1.37 -0.78 1.37 -0.78zM387.4 52.5l0.78 1.37 1.37 0.78 -1.37 0.78 -0.78 1.37 -0.78 -1.37 -1.37 -0.78 1.37 -0.78zM387.5 54.4l0.78 1.37 1.37 0.78 -1.37 0.78 -0.78 1.37 -0.78 -1.37 -1.37 -0.78 1.37 -0.78zM387.3 56.7l0.78 1.37 1.37 0.78 -1.37 0.78 -0.78 1.37 -0.78 -1.37 -1.37 -0.78 1.37 -0.78zM387.1 59.7l0.78 1.37 1.37 0.78 -1.37 0.78 -0.78 1.37 -0.78 -1.37 -1.37 -0.78 1.37 -0.78zM387.4 62.9l0.78 1.37 1.37 0.78 -1.37 0.78 -0.78 1.37 -0.78 -1.37 -1.37 -0.78 1.37 -0.78zM387.5 64.9l0.78 1.37 1.37 0.78 -1.37 0.78 -0.78 1.37 -0.78 -1.37 -1.37 -0.78 1.37 -0.78zM387.6 66.6l0.78 1.37 1.37 0.78 -1.37 0.78 -0.78 1.37 -0.78 -1.37 -1.37 -0.78 1.37 -0.78zM387.2 69.0l0.78 1.37 1.37 0.78 -1.37 0.78 -0.78 1.37 -0.78 -1.37 -1.37 -0.78 1.37 -0.78zM387.3 71.7l0.78 1.37 1.37 0.78 -1.37 0.78 -0.78 1.37 -0.78 -1.37 -1.37 -0.78 1.37 -0.78zM387.4 73.2l0.78 1.37 1.37 0.78 -1.37 0.78 -0.78 1.37 -0.78 -1.37 -1.37 -0.78 1.37 -0.78zM387.5 74.5l0.78 1.37 1.37 0.78 -1.37 0.78 -0.78 1.37 -0.78 -1.37 -1.37 -0.78 1.37 -0.78zM387.4 76.2l0.78 1.37 1.37 0.78 -1.37 0.78 -0.78 1.37 -0.78 -1.37 -1.37 -0.78 1.37 -0.78zM387.4 79.4l0.78 1.37 1.37 0.78 -1.37 0.78 -0.78 1.37 -0.78 -1.37 -1.37 -0.78 1.37 -0.78zM387.2 81.9l0.78 1.37 1.37 0.78 -1.37 0.78 -0.78 1.37 -0.78 -1.37 -1.37 -0.78 1.37 -0.78zM387.0 83.1l0.78 1.37 1.37 0.78 -1.37 0.78 -0.78 1.37 -0.78 -1.37 -1.37 -0.78 1.37 -0.78zM387.4 84.6l0.78 1.37 1.37 0.78 -1.37 0.78 -0.78 1.37 -0.78 -1.37 -1.37 -0.78 1.37 -0.78zM387.3 86.7l0.78 1.37 1.37 0.78 -1.37 0.78 -0.78 1.37 -0.78 -1.37 -1.37 -0.78 1.37 -0.78zM387.1 89.7l0.78 1.37 1.37 0.78 -1.37 0.78 -0.78 1.37 -0.78 -1.37 -1.37 -0.78 1.37 -0.78zM387.4 91.4l0.78 1.37 1.37 0.78 -1.37 0.78 -0.78 1.37 -0.78 -1.37 -1.37 -0.78 1.37 -0.78zM387.0 92.6l0.78 1.37 1.37 0.78 -1.37 0.78 -0.78 1.37 -0.78 -1.37 -1.37 -0.78 1.37 -0.78zM387.1 94.5l0.78 1.37 1.37 0.78 -1.37 0.78 -0.78 1.37 -0.78 -1.37 -1.37 -0.78 1.37 -0.78zM387.1 96.4l0.78 1.37 1.37 0.78 -1.37 0.78 -0.78 1.37 -0.78 -1.37 -1.37 -0.78 1.37 -0.78zM387.4 98.8l0.78 1.37 1.37 0.78 -1.37 0.78 -0.78 1.37 -0.78 -1.37 -1.37 -0.78 1.37 -0.78zM387.4 100.4l0.78 1.37 1.37 0.78 -1.37 0.78 -0.78 1.37 -0.78 -1.37 -1.37 -0.78 1.37 -0.78zM387.1 102.6l0.78 1.37 1.37 0.78 -1.37 0.78 -0.78 1.37 -0.78 -1.37 -1.37 -0.78 1.37 -0.78zM387.1 105.6l0.78 1.37 1.37 0.78 -1.37 0.78 -0.78 1.37 -0.78 -1.37 -1.37 -0.78 1.37 -0.78zM387.1 107.1l0.78 1.37 1.37 0.78 -1.37 0.78 -0.78 1.37 -0.78 -1.37 -1.37 -0.78 1.37 -0.78zM387.5 109.6l0.78 1.37 1.37 0.78 -1.37 0.78 -0.78 1.37 -0.78 -1.37 -1.37 -0.78 1.37 -0.78zM387.2 112.4l0.78 1.37 1.37 0.78 -1.37 0.78 -0.78 1.37 -0.78 -1.37 -1.37 -0.78 1.37 -0.78zM387.0 114.1l0.78 1.37 1.37 0.78 -1.37 0.78 -0.78 1.37 -0.78 -1.37 -1.37 -0.78 1.37 -0.78zM385.6 153.3l0.78 1.37 1.37 0.78 -1.37 0.78 -0.78 1.37 -0.78 -1.37 -1.37 -0.78 1.37 -0.78zM385.7 154.9l0.78 1.37 1.37 0.78 -1.37 0.78 -0.78 1.37 -0.78 -1.37 -1.37 -0.78 1.37 -0.78zM385.9 156.6l0.78 1.37 1.37 0.78 -1.37 0.78 -0.78 1.37 -0.78 -1.37 -1.37 -0.78 1.37 -0.78zM385.4 158.8l0.78 1.37 1.37 0.78 -1.37 0.78 -0.78 1.37 -0.78 -1.37 -1.37 -0.78 1.37 -0.78zM385.3 161.2l0.78 1.37 1.37 0.78 -1.37 0.78 -0.78 1.37 -0.78 -1.37 -1.37 -0.78 1.37 -0.78zM385.5 163.1l0.78 1.37 1.37 0.78 -1.37 0.78 -0.78 1.37 -0.78 -1.37 -1.37 -0.78 1.37 -0.78zM385.3 164.5l0.78 1.37 1.37 0.78 -1.37 0.78 -0.78 1.37 -0.78 -1.37 -1.37 -0.78 1.37 -0.78zM385.3 166.7l0.78 1.37 1.37 0.78 -1.37 0.78 -0.78 1.37 -0.78 -1.37 -1.37 -0.78 1.37 -0.78zM385.9 168.6l0.78 1.37 1.37 0.78 -1.37 0.78 -0.78 1.37 -0.78 -1.37 -1.37 -0.78 1.37 -0.78zM385.4 169.8l0.78 1.37 1.37 0.78 -1.37 0.78 -0.78 1.37 -0.78 -1.37 -1.37 -0.78 1.37 -0.78zM385.6 171.8l0.78 1.37 1.37 0.78 -1.37 0.78 -0.78 1.37 -0.78 -1.37 -1.37 -0.78 1.37 -0.78zM385.8 173.8l0.78 1.37 1.37 0.78 -1.37 0.78 -0.78 1.37 -0.78 -1.37 -1.37 -0.78 1.37 -0.78zM385.5 175.1l0.78 1.37 1.37 0.78 -1.37 0.78 -0.78 1.37 -0.78 -1.37 -1.37 -0.78 1.37 -0.78zM385.3 176.6l0.78 1.37 1.37 0.78 -1.37 0.78 -0.78 1.37 -0.78 -1.37 -1.37 -0.78 1.37 -0.78zM385.6 181.3l0.78 1.37 1.37 0.78 -1.37 0.78 -0.78 1.37 -0.78 -1.37 -1.37 -0.78 1.37 -0.78zM385.6 185.8l0.78 1.37 1.37 0.78 -1.37 0.78 -0.78 1.37 -0.78 -1.37 -1.37 -0.78 1.37 -0.78z" fill="#DF4F14"/>
<path d="M401.8 117.4V131.3M401.8 141.3V154.9M384.8 117.4H418.8M384.8 154.9H418.8" stroke="#F2551A" stroke-width="1.35" fill="none"/>
<rect x="384.8" y="131.3" width="34" height="10.00" fill="#FF8A5C"/>
<rect x="384.8" y="133" width="34" height="6.00" fill="#FB6E38"/>
<path d="M384.8 136H418.8" stroke="#7E3113" stroke-width="1.3" fill="none"/>
<path d="M465.9 89.2l0.78 1.37 1.37 0.78 -1.37 0.78 -0.78 1.37 -0.78 -1.37 -1.37 -0.78 1.37 -0.78zM442.0 125.4l0.78 1.37 1.37 0.78 -1.37 0.78 -0.78 1.37 -0.78 -1.37 -1.37 -0.78 1.37 -0.78zM443.5 125.0l0.78 1.37 1.37 0.78 -1.37 0.78 -0.78 1.37 -0.78 -1.37 -1.37 -0.78 1.37 -0.78zM445.0 125.4l0.78 1.37 1.37 0.78 -1.37 0.78 -0.78 1.37 -0.78 -1.37 -1.37 -0.78 1.37 -0.78zM448.5 125.0l0.78 1.37 1.37 0.78 -1.37 0.78 -0.78 1.37 -0.78 -1.37 -1.37 -0.78 1.37 -0.78zM452.5 125.4l0.78 1.37 1.37 0.78 -1.37 0.78 -0.78 1.37 -0.78 -1.37 -1.37 -0.78 1.37 -0.78zM455.5 125.0l0.78 1.37 1.37 0.78 -1.37 0.78 -0.78 1.37 -0.78 -1.37 -1.37 -0.78 1.37 -0.78zM459.0 125.4l0.78 1.37 1.37 0.78 -1.37 0.78 -0.78 1.37 -0.78 -1.37 -1.37 -0.78 1.37 -0.78zM462.5 124.8l0.78 1.37 1.37 0.78 -1.37 0.78 -0.78 1.37 -0.78 -1.37 -1.37 -0.78 1.37 -0.78zM464.5 125.4l0.78 1.37 1.37 0.78 -1.37 0.78 -0.78 1.37 -0.78 -1.37 -1.37 -0.78 1.37 -0.78zM465.5 124.4l0.78 1.37 1.37 0.78 -1.37 0.78 -0.78 1.37 -0.78 -1.37 -1.37 -0.78 1.37 -0.78zM445.5 153.2l0.78 1.37 1.37 0.78 -1.37 0.78 -0.78 1.37 -0.78 -1.37 -1.37 -0.78 1.37 -0.78zM448.0 153.8l0.78 1.37 1.37 0.78 -1.37 0.78 -0.78 1.37 -0.78 -1.37 -1.37 -0.78 1.37 -0.78zM455.5 153.3l0.78 1.37 1.37 0.78 -1.37 0.78 -0.78 1.37 -0.78 -1.37 -1.37 -0.78 1.37 -0.78zM457.5 156.3l0.78 1.37 1.37 0.78 -1.37 0.78 -0.78 1.37 -0.78 -1.37 -1.37 -0.78 1.37 -0.78zM459.0 155.2l0.78 1.37 1.37 0.78 -1.37 0.78 -0.78 1.37 -0.78 -1.37 -1.37 -0.78 1.37 -0.78zM463.0 152.8l0.78 1.37 1.37 0.78 -1.37 0.78 -0.78 1.37 -0.78 -1.37 -1.37 -0.78 1.37 -0.78zM465.5 153.8l0.78 1.37 1.37 0.78 -1.37 0.78 -0.78 1.37 -0.78 -1.37 -1.37 -0.78 1.37 -0.78zM468.5 154.8l0.78 1.37 1.37 0.78 -1.37 0.78 -0.78 1.37 -0.78 -1.37 -1.37 -0.78 1.37 -0.78zM470.0 156.7l0.78 1.37 1.37 0.78 -1.37 0.78 -0.78 1.37 -0.78 -1.37 -1.37 -0.78 1.37 -0.78zM471.5 155.3l0.78 1.37 1.37 0.78 -1.37 0.78 -0.78 1.37 -0.78 -1.37 -1.37 -0.78 1.37 -0.78zM473.0 154.0l0.78 1.37 1.37 0.78 -1.37 0.78 -0.78 1.37 -0.78 -1.37 -1.37 -0.78 1.37 -0.78zM474.5 154.8l0.78 1.37 1.37 0.78 -1.37 0.78 -0.78 1.37 -0.78 -1.37 -1.37 -0.78 1.37 -0.78zM470.5 157.8l0.78 1.37 1.37 0.78 -1.37 0.78 -0.78 1.37 -0.78 -1.37 -1.37 -0.78 1.37 -0.78zM472.5 156.8l0.78 1.37 1.37 0.78 -1.37 0.78 -0.78 1.37 -0.78 -1.37 -1.37 -0.78 1.37 -0.78zM475.5 153.3l0.78 1.37 1.37 0.78 -1.37 0.78 -0.78 1.37 -0.78 -1.37 -1.37 -0.78 1.37 -0.78z" fill="#EDB120"/>
<path d="M457.7 128.3V138.1M457.7 145.3V154.7M440.7 128.3H474.7M440.7 154.7H474.7" stroke="#EDB120" stroke-width="1.35" fill="none"/>
<rect x="440.7" y="138.1" width="34" height="7.20" fill="#FFC84A"/>
<rect x="440.7" y="139.3" width="34" height="4.50" fill="#F5BC38"/>
<path d="M440.7 141.3H474.7" stroke="#6F5410" stroke-width="1.3" fill="none"/>
<path d="M508.5 130.0l0.78 1.37 1.37 0.78 -1.37 0.78 -0.78 1.37 -0.78 -1.37 -1.37 -0.78 1.37 -0.78zM511.2 129.7l0.78 1.37 1.37 0.78 -1.37 0.78 -0.78 1.37 -0.78 -1.37 -1.37 -0.78 1.37 -0.78zM514.0 130.0l0.78 1.37 1.37 0.78 -1.37 0.78 -0.78 1.37 -0.78 -1.37 -1.37 -0.78 1.37 -0.78zM525.4 128.5l0.78 1.37 1.37 0.78 -1.37 0.78 -0.78 1.37 -0.78 -1.37 -1.37 -0.78 1.37 -0.78zM497.8 150.2l0.78 1.37 1.37 0.78 -1.37 0.78 -0.78 1.37 -0.78 -1.37 -1.37 -0.78 1.37 -0.78zM499.5 151.0l0.78 1.37 1.37 0.78 -1.37 0.78 -0.78 1.37 -0.78 -1.37 -1.37 -0.78 1.37 -0.78zM501.0 151.8l0.78 1.37 1.37 0.78 -1.37 0.78 -0.78 1.37 -0.78 -1.37 -1.37 -0.78 1.37 -0.78zM505.0 151.4l0.78 1.37 1.37 0.78 -1.37 0.78 -0.78 1.37 -0.78 -1.37 -1.37 -0.78 1.37 -0.78zM507.5 151.7l0.78 1.37 1.37 0.78 -1.37 0.78 -0.78 1.37 -0.78 -1.37 -1.37 -0.78 1.37 -0.78zM513.5 150.8l0.78 1.37 1.37 0.78 -1.37 0.78 -0.78 1.37 -0.78 -1.37 -1.37 -0.78 1.37 -0.78zM516.0 150.7l0.78 1.37 1.37 0.78 -1.37 0.78 -0.78 1.37 -0.78 -1.37 -1.37 -0.78 1.37 -0.78zM520.5 151.2l0.78 1.37 1.37 0.78 -1.37 0.78 -0.78 1.37 -0.78 -1.37 -1.37 -0.78 1.37 -0.78zM523.0 151.7l0.78 1.37 1.37 0.78 -1.37 0.78 -0.78 1.37 -0.78 -1.37 -1.37 -0.78 1.37 -0.78zM525.0 150.4l0.78 1.37 1.37 0.78 -1.37 0.78 -0.78 1.37 -0.78 -1.37 -1.37 -0.78 1.37 -0.78zM527.0 151.4l0.78 1.37 1.37 0.78 -1.37 0.78 -0.78 1.37 -0.78 -1.37 -1.37 -0.78 1.37 -0.78zM528.5 150.2l0.78 1.37 1.37 0.78 -1.37 0.78 -0.78 1.37 -0.78 -1.37 -1.37 -0.78 1.37 -0.78zM530.0 152.2l0.78 1.37 1.37 0.78 -1.37 0.78 -0.78 1.37 -0.78 -1.37 -1.37 -0.78 1.37 -0.78zM529.0 152.8l0.78 1.37 1.37 0.78 -1.37 0.78 -0.78 1.37 -0.78 -1.37 -1.37 -0.78 1.37 -0.78z" fill="#7E2F8E"/>
<path d="M513.6 133.5V139.4M513.6 145.7V151.8M496.6 133.5H530.6M496.6 151.8H530.6" stroke="#7E2F8E" stroke-width="1.35" fill="none"/>
<rect x="496.6" y="139.4" width="34" height="6.30" fill="#B056BF"/>
<rect x="496.6" y="140.6" width="34" height="3.80" fill="#9A3FAA"/>
<path d="M496.6 142.2H530.6" stroke="#45144F" stroke-width="1.3" fill="none"/>
</g>
<g id="plot-c">
<path d="M172.5 285.9V471.9H396.5" fill="none" stroke="#858585" stroke-width="0.95"/>
<path d="M172.5 286.4h2.3M172.5 309.5875h2.3M172.5 332.775h2.3M172.5 355.9625h2.3M172.5 379.15h2.3M172.5 402.3375h2.3M172.5 425.525h2.3M172.5 448.7125h2.3M172.5 471.9h2.3M200.9 471.9v-2.3M256.8 471.9v-2.3M312.7 471.9v-2.3M368.6 471.9v-2.3" fill="none" stroke="#858585" stroke-width="0.8"/>
<text x="169.8" y="290.1" text-anchor="end" class="tk">26</text>
<text x="169.8" y="313.3" text-anchor="end" class="tk">25.5</text>
<text x="169.8" y="336.5" text-anchor="end" class="tk">25</text>
<text x="169.8" y="359.7" text-anchor="end" class="tk">24.5</text>
<text x="169.8" y="382.8" text-anchor="end" class="tk">24</text>
<text x="169.8" y="406.0" text-anchor="end" class="tk">23.5</text>
<text x="169.8" y="429.2" text-anchor="end" class="tk">23</text>
<text x="169.8" y="452.4" text-anchor="end" class="tk">22.5</text>
<text x="169.8" y="475.6" text-anchor="end" class="tk">22</text>
<text x="200.9" y="484.0" text-anchor="middle" class="tx">class N</text>
<text x="256.8" y="484.0" text-anchor="middle" class="tx">class S</text>
<text x="312.7" y="484.0" text-anchor="middle" class="tx">class V</text>
<text x="368.6" y="484.0" text-anchor="middle" class="tx">class F</text>
<text x="284.6" y="282.0" text-anchor="middle" class="tt">Spectral Roll-off</text>
<path d="M181.9 332.775l2.1 -1.9H216.9l2.1 1.9l-2.1 1.9H184.0z" fill="#0A6BB8"/>
<path d="M183.6 379.34999999999997H217.4" stroke="#0D3C73" stroke-width="1.3" fill="none"/>
<path d="M256.4 286.4V332.775M256.4 379.15V425.525M240.2 286.4H272.6M239.7 425.525H273.4" stroke="#F2551A" stroke-width="1.4" fill="none"/>
<rect x="239.6" y="332.77" width="34.4" height="46.38" fill="#FF7F50"/>
<path d="M239.6 379.45H274" stroke="#5A2410" stroke-width="1.2" fill="none"/>
<path d="M247.0 470.0l0.78 1.12 1.12 0.78 -1.12 0.78 -0.78 1.12 -0.78 -1.12 -1.12 -0.78 1.12 -0.78zM250.6 470.0l0.78 1.12 1.12 0.78 -1.12 0.78 -0.78 1.12 -0.78 -1.12 -1.12 -0.78 1.12 -0.78zM253.6 470.0l0.78 1.12 1.12 0.78 -1.12 0.78 -0.78 1.12 -0.78 -1.12 -1.12 -0.78 1.12 -0.78z" fill="#DF4F14"/>
<path d="M238.6 471.9l1.6 -1.6H243.8l1.6 1.6l-1.6 1.6H240.2z" fill="#DF4F14"/>
<path d="M256.2 470.29999999999995v1" stroke="#444" stroke-width="0.6"/>
<path d="M307.4 284.5l0.78 1.12 1.12 0.78 -1.12 0.78 -0.78 1.12 -0.78 -1.12 -1.12 -0.78 1.12 -0.78zM309.6 284.5l0.78 1.12 1.12 0.78 -1.12 0.78 -0.78 1.12 -0.78 -1.12 -1.12 -0.78 1.12 -0.78zM312.4 284.5l0.78 1.12 1.12 0.78 -1.12 0.78 -0.78 1.12 -0.78 -1.12 -1.12 -0.78 1.12 -0.78zM315.6 284.5l0.78 1.12 1.12 0.78 -1.12 0.78 -0.78 1.12 -0.78 -1.12 -1.12 -0.78 1.12 -0.78z" fill="#EDB120"/>
<path d="M317.6 286.4l1.6 -1.6H325.0l1.6 1.6l-1.6 1.6H319.20000000000005z" fill="#EDB120"/>
<path d="M296 332.775H329.4" stroke="#A87514" stroke-width="1.3" fill="none"/>
<path d="M294.4 379.15l2.1 -1.7H329.5l2.1 1.7l-2.1 1.7H296.5z" fill="#EDB120"/>
<path d="M351.6 286.4H385.4" stroke="#5C1A6B" stroke-width="1.3" fill="none"/>
<path d="M350.4 332.775l2.1 -1.8H385.09999999999997l2.1 1.8l-2.1 1.8H352.5z" fill="#7E2F8E"/>
</g>
<text x="127.8" y="256.8" text-anchor="middle" class="cp"><tspan class="p" dy="0.5">(</tspan><tspan class="b" style="font-size:14.6px" dy="-0.5" dx="-0.7">a</tspan><tspan class="p" dy="0.5" dx="-0.7">)</tspan></text>
<text x="424.7" y="256.8" text-anchor="middle" class="cp"><tspan class="p" dy="0.5">(</tspan><tspan class="b" style="font-size:15.8px" dy="-0.5" dx="0.1">b</tspan><tspan class="p" dy="0.5" dx="0.1">)</tspan></text>
<text x="279.4" y="516.8" text-anchor="middle" class="cp"><tspan class="p" dy="0.5">(</tspan><tspan class="b" style="font-size:14.6px" dy="-0.5" dx="-0.7">c</tspan><tspan class="p" dy="0.5" dx="-0.7">)</tspan></text>
</svg></body></html>
